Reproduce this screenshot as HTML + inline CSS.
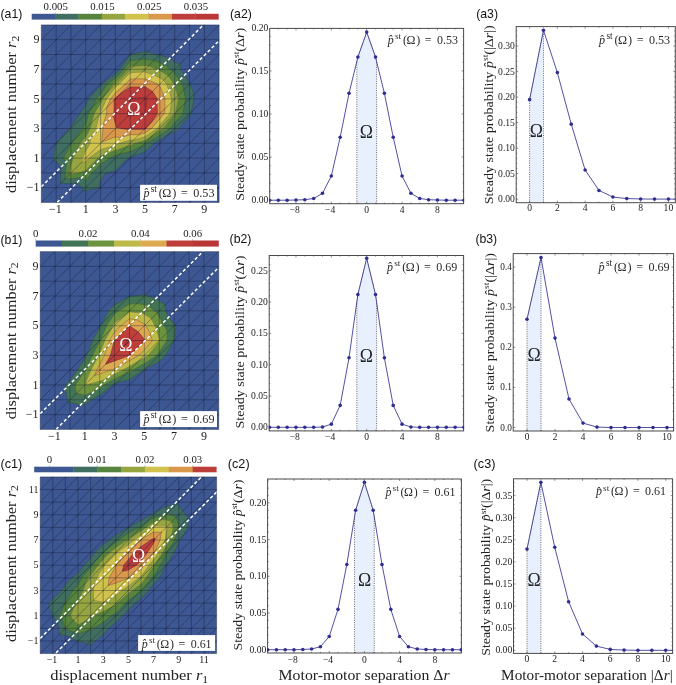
<!DOCTYPE html>
<html><head><meta charset="utf-8"><title>Steady state probability</title>
<style>html,body{margin:0;padding:0;background:#fff}svg{display:block}</style></head>
<body>
<svg width="676" height="685" viewBox="0 0 676 685">
<rect width="676" height="685" fill="#fff"/>
<g shape-rendering="geometricPrecision">
<rect x="41.3" y="24.9" width="177.84" height="177.6" fill="#3d5793"/>
<path d="M85.76 190.63L98.72 187.7L100.58 180.83L105.47 172.9L115.4 170.83L127.7 158.1L130.22 157.48L131.38 156.95L145.04 151.79L154.42 143.3L159.86 139.98L170.06 133.12L174.68 132.12L178.31 128.5L189.5 115.74L191.54 113.7L191.54 111.66L194.03 98.9L194.03 94.38L189.97 84.1L189.97 83.63L189.5 83.63L184.4 74.4L180.29 69.3L180.29 63.7L174.68 62.62L170.44 58.74L159.86 55.14L159.4 54.96L155.91 54.5L147.82 51.72L145.04 51.72L130.56 54.16L130.22 54.16L129.88 54.5L129.88 54.84L119.66 69.3L115.4 73.62L101.63 84.1L100.58 85.67L88.55 98.9L85.76 105.07L79.88 113.7L70.94 127.02L69.77 128.5L56.12 143.3L56.12 143.3L56.12 143.3L53.14 158.1L53.14 161.08L56.12 161.08L61.47 167.56L60.64 172.9L60.64 183.18L70.94 183.59L75.89 182.76L82.5 187.7L82.83 190.63ZM65.17 178.66L65.17 172.9L66.82 162.22L63.42 158.1L70.94 144.34L71.46 143.3L73.81 140.43L82.65 128.5L85.76 123.63L88.51 113.7L92.69 106.78L96.25 98.9L100.58 94.14L107.31 84.1L115.4 77.95L123.92 69.3L130.22 60.39L139.97 59.56L145.04 59.27L153.92 60.43L159.86 62.82L164.7 64.46L169.98 69.3L172.88 71.1L174.68 73.77L179.29 79.49L181.84 84.1L183.74 89.85L185.51 98.9L184.5 103.89L183.08 113.7L174.68 122.87L170.02 128.5L159.86 135.34L146.82 143.3L145.04 144.91L142.45 145.88L130.22 151.53L119.29 154.22L115.4 155.5L109.45 158.1L100.58 164.52L92.23 172.9L85.76 180.25L81.55 177.1L70.94 178.89Z" fill="#406e61" stroke="#406e61" stroke-width="0.5" fill-rule="evenodd"/>
<path d="M70.94 178.89L81.55 177.1L85.76 180.25L92.23 172.9L100.58 164.52L109.45 158.1L115.4 155.5L119.29 154.22L130.22 151.53L142.45 145.88L145.04 144.91L146.82 143.3L159.86 135.34L170.02 128.5L174.68 122.87L183.08 113.7L184.5 103.89L185.51 98.9L183.74 89.85L181.84 84.1L179.29 79.49L174.68 73.77L172.88 71.1L169.98 69.3L164.7 64.46L159.86 62.82L153.92 60.43L145.04 59.27L139.97 59.56L130.22 60.39L123.92 69.3L115.4 77.95L107.31 84.1L100.58 94.14L96.25 98.9L92.69 106.78L88.51 113.7L85.76 123.63L82.65 128.5L73.81 140.43L71.46 143.3L70.94 144.34L63.42 158.1L66.82 162.22L65.17 172.9L65.17 178.66ZM69.69 174.14L69.69 172.9L70.94 164.82L73.1 158.1L74.99 154.06L80.34 143.3L85.76 136.7L90.11 128.5L91.6 122.67L94.09 113.7L100.58 102.94L102.39 98.9L108.12 91.37L113 84.1L115.4 82.27L128.18 69.3L130.22 66.42L133.37 66.15L145.04 65.46L148.44 65.91L156.88 69.3L159.07 70.09L159.86 70.46L168.29 75.68L173.94 84.1L174.18 84.6L174.68 86.4L177.78 95.81L178.38 98.9L175.57 112.81L175.44 113.7L174.68 114.53L163.13 128.5L159.86 130.7L154.19 134.16L145.04 140.41L135.16 143.3L130.22 145.58L127.19 146.33L115.4 150.22L103.08 155.6L100.58 156.3L98.13 158.1L85.76 170.53L78.61 172.9L70.94 174.19Z" fill="#56843e" stroke="#56843e" stroke-width="0.5" fill-rule="evenodd"/>
<path d="M70.94 174.19L78.61 172.9L85.76 170.53L98.13 158.1L100.58 156.3L103.08 155.6L115.4 150.22L127.19 146.33L130.22 145.58L135.16 143.3L145.04 140.41L154.19 134.16L159.86 130.7L163.13 128.5L174.68 114.53L175.44 113.7L175.57 112.81L178.38 98.9L177.78 95.81L174.68 86.4L174.18 84.6L173.94 84.1L168.29 75.68L159.86 70.46L159.07 70.09L156.88 69.3L148.44 65.91L145.04 65.46L133.37 66.15L130.22 66.42L128.18 69.3L115.4 82.27L113 84.1L108.12 91.37L102.39 98.9L100.58 102.94L94.09 113.7L91.6 122.67L90.11 128.5L85.76 136.7L80.34 143.3L74.99 154.06L73.1 158.1L70.94 164.82L69.69 172.9L69.69 174.14ZM80.98 162.87L82.51 158.1L85.76 151.15L90.17 143.3L90.53 138.54L95.86 128.5L99.31 114.97L99.66 113.7L100.58 112.18L106.51 98.9L115.4 87.23L119.06 84.1L130.22 72.68L142.4 71.93L145.04 71.94L153.97 75.18L159.86 77.89L163.7 80.27L166.27 84.1L168.99 89.78L171.5 98.9L171.55 102.03L169.72 113.7L159.86 125.14L156.96 128.5L145.04 136.64L133.51 140.01L130.22 139.99L120.35 143.3L115.4 144.93L112.49 146.21L100.58 149.53L88.93 158.1L85.76 161.29Z" fill="#96a540" stroke="#96a540" stroke-width="0.5" fill-rule="evenodd"/>
<path d="M85.76 161.29L88.93 158.1L100.58 149.53L112.49 146.21L115.4 144.93L120.35 143.3L130.22 139.99L133.51 140.01L145.04 136.64L156.96 128.5L159.86 125.14L169.72 113.7L171.55 102.03L171.5 98.9L168.99 89.78L166.27 84.1L163.7 80.27L159.86 77.89L153.97 75.18L145.04 71.94L142.4 71.93L130.22 72.68L119.06 84.1L115.4 87.23L106.51 98.9L100.58 112.18L99.66 113.7L99.31 114.97L95.86 128.5L90.53 138.54L90.17 143.3L85.76 151.15L82.51 158.1L80.98 162.87ZM101.79 142.09L103.04 128.5L102.51 126.58L106.67 113.7L106.8 107.49L110.64 98.9L115.4 92.65L125.4 84.1L130.22 79.17L135.48 78.85L145.04 78.89L148.87 80.28L157.2 84.1L158.81 85.14L159.86 86.73L163.81 94.96L164.89 98.9L165.02 108.55L164.21 113.7L159.86 118.75L151.44 128.5L145.04 132.87L138.85 134.68L130.22 134.63L120.98 137.72L115.4 136.88Z" fill="#d0c24d" stroke="#d0c24d" stroke-width="0.5" fill-rule="evenodd"/>
<path d="M115.4 136.88L120.98 137.72L130.22 134.63L138.85 134.68L145.04 132.87L151.44 128.5L159.86 118.75L164.21 113.7L165.02 108.55L164.89 98.9L163.81 94.96L159.86 86.73L158.81 85.14L157.2 84.1L148.87 80.28L145.04 78.89L135.48 78.85L130.22 79.17L125.4 84.1L115.4 92.65L110.64 98.9L106.8 107.49L106.67 113.7L102.51 126.58L103.04 128.5L101.79 142.09ZM129.07 129.65L121.47 128.5L116.55 127.36L115.4 123.59L113.26 115.84L113.95 113.7L114.25 100.05L114.76 98.9L115.4 98.06L121.21 93.1L130.22 86.92L142.13 87L145.04 86.72L152.44 91.51L157.32 98.9L157.04 101.72L157.33 113.7L151.45 122.1L145.93 128.5L145.04 129.1L144.18 129.36L130.22 129.26Z" fill="#d9984c" stroke="#d9984c" stroke-width="0.5" fill-rule="evenodd"/>
<path d="M130.22 129.26L144.18 129.36L145.04 129.1L145.93 128.5L151.45 122.1L157.33 113.7L157.04 101.72L157.32 98.9L152.44 91.51L145.04 86.72L142.13 87L130.22 86.92L121.21 93.1L115.4 98.06L114.76 98.9L114.25 100.05L113.95 113.7L113.26 115.84L115.4 123.59L116.55 127.36L121.47 128.5L129.07 129.65ZM128.13 115.78L127.5 113.7L129.86 99.26L129.88 98.9L130.22 98.67L130.45 98.67L145.04 97.22L146.06 97.88L146.73 98.9L145.28 113.47L145.28 113.7L145.04 114.04L144.7 114.04L130.22 116.27Z" fill="#bc3d3a" stroke="#bc3d3a" stroke-width="0.5" fill-rule="evenodd"/>
<path d="M130.22 116.27L144.7 114.04L145.04 114.04L145.28 113.7L145.28 113.47L146.73 98.9L146.06 97.88L145.04 97.22L130.45 98.67L130.22 98.67L129.88 98.9L129.86 99.26L127.5 113.7L128.13 115.78Z" fill="#b93737" stroke="#b93737" stroke-width="0.5" fill-rule="evenodd"/>
<path d="M41.3 24.9V202.5M41.3 202.5H219.14M56.12 24.9V202.5M41.3 187.7H219.14M70.94 24.9V202.5M41.3 172.9H219.14M85.76 24.9V202.5M41.3 158.1H219.14M100.58 24.9V202.5M41.3 143.3H219.14M115.4 24.9V202.5M41.3 128.5H219.14M130.22 24.9V202.5M41.3 113.7H219.14M145.04 24.9V202.5M41.3 98.9H219.14M159.86 24.9V202.5M41.3 84.1H219.14M174.68 24.9V202.5M41.3 69.3H219.14M189.5 24.9V202.5M41.3 54.5H219.14M204.32 24.9V202.5M41.3 39.7H219.14M219.14 24.9V202.5M41.3 24.9H219.14M204.32 202.5L219.14 187.7M189.5 202.5L219.14 172.9M174.68 202.5L219.14 158.1M159.86 202.5L219.14 143.3M145.04 202.5L219.14 128.5M130.22 202.5L219.14 113.7M115.4 202.5L219.14 98.9M100.58 202.5L219.14 84.1M85.76 202.5L219.14 69.3M70.94 202.5L219.14 54.5M56.12 202.5L219.14 39.7M41.3 202.5L219.14 24.9M41.3 187.7L204.32 24.9M41.3 172.9L189.5 24.9M41.3 158.1L174.68 24.9M41.3 143.3L159.86 24.9M41.3 128.5L145.04 24.9M41.3 113.7L130.22 24.9M41.3 98.9L115.4 24.9M41.3 84.1L100.58 24.9M41.3 69.3L85.76 24.9M41.3 54.5L70.94 24.9M41.3 39.7L56.12 24.9" fill="none" stroke="#10162a" stroke-opacity="0.6" stroke-width="0.6"/>
<path d="M85.76 190.63L98.72 187.7L100.58 180.83L105.47 172.9L115.4 170.83L127.7 158.1L130.22 157.48L131.38 156.95L145.04 151.79L154.42 143.3L159.86 139.98L170.06 133.12L174.68 132.12L178.31 128.5L189.5 115.74L191.54 113.7L191.54 111.66L194.03 98.9L194.03 94.38L189.97 84.1L189.97 83.63L189.5 83.63L184.4 74.4L180.29 69.3L180.29 63.7L174.68 62.62L170.44 58.74L159.86 55.14L159.4 54.96L155.91 54.5L147.82 51.72L145.04 51.72L130.56 54.16L130.22 54.16L129.88 54.5L129.88 54.84L119.66 69.3L115.4 73.62L101.63 84.1L100.58 85.67L88.55 98.9L85.76 105.07L79.88 113.7L70.94 127.02L69.77 128.5L56.12 143.3L56.12 143.3L56.12 143.3L53.14 158.1L53.14 161.08L56.12 161.08L61.47 167.56L60.64 172.9L60.64 183.18L70.94 183.59L75.89 182.76L82.5 187.7L82.83 190.63ZM70.94 178.89L81.55 177.1L85.76 180.25L92.23 172.9L100.58 164.52L109.45 158.1L115.4 155.5L119.29 154.22L130.22 151.53L142.45 145.88L145.04 144.91L146.82 143.3L159.86 135.34L170.02 128.5L174.68 122.87L183.08 113.7L184.5 103.89L185.51 98.9L183.74 89.85L181.84 84.1L179.29 79.49L174.68 73.77L172.88 71.1L169.98 69.3L164.7 64.46L159.86 62.82L153.92 60.43L145.04 59.27L139.97 59.56L130.22 60.39L123.92 69.3L115.4 77.95L107.31 84.1L100.58 94.14L96.25 98.9L92.69 106.78L88.51 113.7L85.76 123.63L82.65 128.5L73.81 140.43L71.46 143.3L70.94 144.34L63.42 158.1L66.82 162.22L65.17 172.9L65.17 178.66ZM70.94 174.19L78.61 172.9L85.76 170.53L98.13 158.1L100.58 156.3L103.08 155.6L115.4 150.22L127.19 146.33L130.22 145.58L135.16 143.3L145.04 140.41L154.19 134.16L159.86 130.7L163.13 128.5L174.68 114.53L175.44 113.7L175.57 112.81L178.38 98.9L177.78 95.81L174.68 86.4L174.18 84.6L173.94 84.1L168.29 75.68L159.86 70.46L159.07 70.09L156.88 69.3L148.44 65.91L145.04 65.46L133.37 66.15L130.22 66.42L128.18 69.3L115.4 82.27L113 84.1L108.12 91.37L102.39 98.9L100.58 102.94L94.09 113.7L91.6 122.67L90.11 128.5L85.76 136.7L80.34 143.3L74.99 154.06L73.1 158.1L70.94 164.82L69.69 172.9L69.69 174.14ZM85.76 161.29L88.93 158.1L100.58 149.53L112.49 146.21L115.4 144.93L120.35 143.3L130.22 139.99L133.51 140.01L145.04 136.64L156.96 128.5L159.86 125.14L169.72 113.7L171.55 102.03L171.5 98.9L168.99 89.78L166.27 84.1L163.7 80.27L159.86 77.89L153.97 75.18L145.04 71.94L142.4 71.93L130.22 72.68L119.06 84.1L115.4 87.23L106.51 98.9L100.58 112.18L99.66 113.7L99.31 114.97L95.86 128.5L90.53 138.54L90.17 143.3L85.76 151.15L82.51 158.1L80.98 162.87ZM115.4 136.88L120.98 137.72L130.22 134.63L138.85 134.68L145.04 132.87L151.44 128.5L159.86 118.75L164.21 113.7L165.02 108.55L164.89 98.9L163.81 94.96L159.86 86.73L158.81 85.14L157.2 84.1L148.87 80.28L145.04 78.89L135.48 78.85L130.22 79.17L125.4 84.1L115.4 92.65L110.64 98.9L106.8 107.49L106.67 113.7L102.51 126.58L103.04 128.5L101.79 142.09ZM130.22 129.26L144.18 129.36L145.04 129.1L145.93 128.5L151.45 122.1L157.33 113.7L157.04 101.72L157.32 98.9L152.44 91.51L145.04 86.72L142.13 87L130.22 86.92L121.21 93.1L115.4 98.06L114.76 98.9L114.25 100.05L113.95 113.7L113.26 115.84L115.4 123.59L116.55 127.36L121.47 128.5L129.07 129.65ZM130.22 116.27L144.7 114.04L145.04 114.04L145.28 113.7L145.28 113.47L146.73 98.9L146.06 97.88L145.04 97.22L130.45 98.67L130.22 98.67L129.88 98.9L129.86 99.26L127.5 113.7L128.13 115.78Z" fill="none" stroke="#1a1a1a" stroke-opacity="0.45" stroke-width="0.45"/>
<clipPath id="cpa1"><rect x="41.3" y="24.9" width="177.84" height="177.6"/></clipPath>
<g clip-path="url(#cpa1)" stroke="#fff" stroke-width="1.5" stroke-dasharray="3.3 2.3" fill="none">
<path d="M41.3 186.81L219.14 9.21"/>
<path d="M41.3 218.19L219.14 40.59"/>
</g>
</g>
<text x="55.32" y="213.2" font-family='"Liberation Serif", "DejaVu Serif", serif' font-size="12" fill="#222" text-anchor="middle" >−1</text>
<text x="39.6" y="191.3" font-family='"Liberation Serif", "DejaVu Serif", serif' font-size="12" fill="#222" text-anchor="end" >−1</text>
<text x="85.76" y="213.2" font-family='"Liberation Serif", "DejaVu Serif", serif' font-size="12" fill="#222" text-anchor="middle" >1</text>
<text x="39.6" y="161.7" font-family='"Liberation Serif", "DejaVu Serif", serif' font-size="12" fill="#222" text-anchor="end" >1</text>
<text x="115.4" y="213.2" font-family='"Liberation Serif", "DejaVu Serif", serif' font-size="12" fill="#222" text-anchor="middle" >3</text>
<text x="39.6" y="132.1" font-family='"Liberation Serif", "DejaVu Serif", serif' font-size="12" fill="#222" text-anchor="end" >3</text>
<text x="145.04" y="213.2" font-family='"Liberation Serif", "DejaVu Serif", serif' font-size="12" fill="#222" text-anchor="middle" >5</text>
<text x="39.6" y="102.5" font-family='"Liberation Serif", "DejaVu Serif", serif' font-size="12" fill="#222" text-anchor="end" >5</text>
<text x="174.68" y="213.2" font-family='"Liberation Serif", "DejaVu Serif", serif' font-size="12" fill="#222" text-anchor="middle" >7</text>
<text x="39.6" y="72.9" font-family='"Liberation Serif", "DejaVu Serif", serif' font-size="12" fill="#222" text-anchor="end" >7</text>
<text x="204.32" y="213.2" font-family='"Liberation Serif", "DejaVu Serif", serif' font-size="12" fill="#222" text-anchor="middle" >9</text>
<text x="39.6" y="43.3" font-family='"Liberation Serif", "DejaVu Serif", serif' font-size="12" fill="#222" text-anchor="end" >9</text>
<rect x="31.7" y="13.8" width="23.68" height="5.8" fill="#3d5793"/>
<rect x="55.08" y="13.8" width="23.68" height="5.8" fill="#406e61"/>
<rect x="78.45" y="13.8" width="23.68" height="5.8" fill="#56843e"/>
<rect x="101.83" y="13.8" width="23.68" height="5.8" fill="#96a540"/>
<rect x="125.2" y="13.8" width="23.67" height="5.8" fill="#d0c24d"/>
<rect x="148.57" y="13.8" width="23.68" height="5.8" fill="#d9984c"/>
<rect x="171.95" y="13.8" width="23.68" height="5.8" fill="#bc3d3a"/>
<rect x="195.32" y="13.8" width="23.38" height="5.8" fill="#b93737"/>
<path d="M55.08 12.5V13.8" stroke="#666" stroke-width="0.5"/>
<text x="55.68" y="10.2" font-family='"Liberation Serif", "DejaVu Serif", serif' font-size="10.8" fill="#222" text-anchor="middle" >0.005</text>
<path d="M101.83 12.5V13.8" stroke="#666" stroke-width="0.5"/>
<text x="102.42" y="10.2" font-family='"Liberation Serif", "DejaVu Serif", serif' font-size="10.8" fill="#222" text-anchor="middle" >0.015</text>
<path d="M148.57 12.5V13.8" stroke="#666" stroke-width="0.5"/>
<text x="149.17" y="10.2" font-family='"Liberation Serif", "DejaVu Serif", serif' font-size="10.8" fill="#222" text-anchor="middle" >0.025</text>
<path d="M195.32 12.5V13.8" stroke="#666" stroke-width="0.5"/>
<text x="195.92" y="10.2" font-family='"Liberation Serif", "DejaVu Serif", serif' font-size="10.8" fill="#222" text-anchor="middle" >0.035</text>
<text x="133.9" y="115.1" font-family='"Liberation Serif", "DejaVu Serif", serif' font-size="17.8" fill="#fff" text-anchor="middle" >Ω</text>
<rect x="140.1" y="184.8" width="76.9" height="16" fill="#fff"/>
<text y="196.9" font-family='"Liberation Serif", "DejaVu Serif", serif' font-size="12.17" fill="#2a2a2a"><tspan x="143.4" font-style="italic">p̂</tspan><tspan x="150.71" dy="-4.77" font-size="9.33">st</tspan><tspan x="158.82" dy="4.77">(</tspan><tspan x="162.37">Ω</tspan><tspan x="172.21">)</tspan><tspan x="180.93">=</tspan><tspan x="193.21">0.53</tspan></text>
<text transform="translate(16.2 114.4) rotate(-90)" font-family='"Liberation Serif", "DejaVu Serif", serif' font-size="15.6" fill="#222" text-anchor="middle"  textLength="157.4" lengthAdjust="spacingAndGlyphs">displacement number <tspan font-style="italic">r</tspan><tspan font-size="11" dy="2.6">2</tspan></text>
<text x="0.5" y="18.4" font-family='"Liberation Sans", "DejaVu Sans", sans-serif' font-size="13.4" fill="#111" text-anchor="start"  textLength="21.8" lengthAdjust="spacingAndGlyphs">(a1)</text>
<g shape-rendering="geometricPrecision">
<rect x="40.2" y="251.6" width="178.56" height="177.84" fill="#3d5793"/>
<path d="M69.96 402.24L79.77 404.85L84.84 404.85L91.31 399.8L99.72 395.16L112.31 384.98L114.6 383.69L117.19 382.4L129.48 379.68L143.24 370.16L144.36 369.56L146.24 368.28L159.24 361.5L165.42 355.34L174.12 340.52L175.35 325.7L175.35 324.48L174.12 324.39L168.37 316.61L165.48 310.88L165.22 304.92L159.24 301.34L156.5 298.79L147.33 296.06L145.62 294.81L144.36 294.8L134.64 296.06L129.48 296.44L128.48 297.06L114.6 304.88L108.58 310.88L102.03 323.4L100.49 325.7L99.72 327.48L92.61 340.52L87.89 352.3L86.31 355.34L84.84 358.3L77.39 370.16L69.96 380.34L65.49 384.98L65.49 389.44L67.51 399.8L67.51 402.24ZM76.5 393.29L75.28 384.98L84.84 370.91L85.15 370.16L85.51 369.49L92.52 355.34L99.72 341.53L100.13 340.52L100.64 339.6L106.67 325.7L114.6 313.84L118.65 310.88L129.48 304.22L136.71 303.68L144.36 304.72L149.12 306.14L154.23 310.88L157.29 312.82L159.24 316.89L162.2 322.75L164.38 325.7L167.32 332.47L166.97 340.52L159.24 352.21L156.73 355.34L144.36 363.7L132.39 370.16L129.48 372.18L126.88 372.75L114.6 378.88L103.77 384.98L99.72 388.25L92.35 392.32L84.84 395.05Z" fill="#427455" stroke="#427455" stroke-width="0.5" fill-rule="evenodd"/>
<path d="M84.84 395.05L92.35 392.32L99.72 388.25L103.77 384.98L114.6 378.88L126.88 372.75L129.48 372.18L132.39 370.16L144.36 363.7L156.73 355.34L159.24 352.21L166.97 340.52L167.32 332.47L164.38 325.7L162.2 322.75L159.24 316.89L157.29 312.82L154.23 310.88L149.12 306.14L144.36 304.72L136.71 303.68L129.48 304.22L118.65 310.88L114.6 313.84L106.67 325.7L100.64 339.6L100.13 340.52L99.72 341.53L92.52 355.34L85.51 369.49L85.15 370.16L84.84 370.91L75.28 384.98L76.5 393.29ZM84.64 385.18L84.61 384.98L84.84 384.64L90.9 370.16L97.77 357.28L98.73 355.34L99.72 353.45L104.89 340.52L111.5 328.78L112.84 325.7L114.6 323.07L124.51 315.83L129.48 311.87L142.11 313.12L144.36 314.31L151.36 318.73L154.68 325.7L156.25 328.67L159.24 338.51L159.85 339.91L159.82 340.52L159.24 341.4L148.07 355.34L144.36 357.84L138.87 360.81L129.48 366.22L122.42 370.16L114.6 374.06L105.58 379.15L99.72 381.19L85.51 384.98L84.84 385.22Z" fill="#6c933e" stroke="#6c933e" stroke-width="0.5" fill-rule="evenodd"/>
<path d="M84.84 385.22L85.51 384.98L99.72 381.19L105.58 379.15L114.6 374.06L122.42 370.16L129.48 366.22L138.87 360.81L144.36 357.84L148.07 355.34L159.24 341.4L159.82 340.52L159.85 339.91L159.24 338.51L156.25 328.67L154.68 325.7L151.36 318.73L144.36 314.31L142.11 313.12L129.48 311.87L124.51 315.83L114.6 323.07L112.84 325.7L111.5 328.78L104.89 340.52L99.72 353.45L98.73 355.34L97.77 357.28L90.9 370.16L84.84 384.64L84.61 384.98L84.64 385.18ZM94.46 375.4L96.65 370.16L99.72 364.41L104.63 355.34L106.38 348.71L109.65 340.52L114.6 331.74L120.82 325.7L129.48 318.8L135.78 319.42L144.36 323.98L145.42 324.65L145.92 325.7L150.51 334.39L152.37 340.52L144.36 350.18L139.01 355.34L129.48 360.83L116.93 367.84L114.6 368.68L110.71 370.16L99.72 374Z" fill="#beba48" stroke="#beba48" stroke-width="0.5" fill-rule="evenodd"/>
<path d="M99.72 374L110.71 370.16L114.6 368.68L116.93 367.84L129.48 360.83L139.01 355.34L144.36 350.18L152.37 340.52L150.51 334.39L145.92 325.7L145.42 324.65L144.36 323.98L135.78 319.42L129.48 318.8L120.82 325.7L114.6 331.74L109.65 340.52L106.38 348.71L104.63 355.34L99.72 364.41L96.65 370.16L94.46 375.4ZM105.62 364.28L110.46 355.34L114.29 340.83L114.41 340.52L114.6 340.19L128.03 327.14L129.48 325.75L138.19 331.84L144.36 339.35L144.77 340.12L144.89 340.52L144.36 341.16L129.66 355.34L129.48 355.44L129.24 355.57L114.6 360.88Z" fill="#ddaa50" stroke="#ddaa50" stroke-width="0.5" fill-rule="evenodd"/>
<path d="M114.6 360.88L129.24 355.57L129.48 355.44L129.66 355.34L144.36 341.16L144.89 340.52L144.77 340.12L144.36 339.35L138.19 331.84L129.48 325.75L128.03 327.14L114.6 340.19L114.41 340.52L114.29 340.83L110.46 355.34L105.62 364.28ZM124.19 345.79L127.35 340.52L129.48 338.48L130.68 339.32L131.67 340.52L129.48 342.6Z" fill="#be3e3a" stroke="#be3e3a" stroke-width="0.5" fill-rule="evenodd"/>
<path d="M129.48 342.6L131.67 340.52L130.68 339.32L129.48 338.48L127.35 340.52L124.19 345.79Z" fill="#b93737" stroke="#b93737" stroke-width="0.5" fill-rule="evenodd"/>
<path d="M40.2 251.6V429.44M40.2 429.44H218.76M55.08 251.6V429.44M40.2 414.62H218.76M69.96 251.6V429.44M40.2 399.8H218.76M84.84 251.6V429.44M40.2 384.98H218.76M99.72 251.6V429.44M40.2 370.16H218.76M114.6 251.6V429.44M40.2 355.34H218.76M129.48 251.6V429.44M40.2 340.52H218.76M144.36 251.6V429.44M40.2 325.7H218.76M159.24 251.6V429.44M40.2 310.88H218.76M174.12 251.6V429.44M40.2 296.06H218.76M189 251.6V429.44M40.2 281.24H218.76M203.88 251.6V429.44M40.2 266.42H218.76M218.76 251.6V429.44M40.2 251.6H218.76M203.88 429.44L218.76 414.62M189 429.44L218.76 399.8M174.12 429.44L218.76 384.98M159.24 429.44L218.76 370.16M144.36 429.44L218.76 355.34M129.48 429.44L218.76 340.52M114.6 429.44L218.76 325.7M99.72 429.44L218.76 310.88M84.84 429.44L218.76 296.06M69.96 429.44L218.76 281.24M55.08 429.44L218.76 266.42M40.2 429.44L218.76 251.6M40.2 414.62L203.88 251.6M40.2 399.8L189 251.6M40.2 384.98L174.12 251.6M40.2 370.16L159.24 251.6M40.2 355.34L144.36 251.6M40.2 340.52L129.48 251.6M40.2 325.7L114.6 251.6M40.2 310.88L99.72 251.6M40.2 296.06L84.84 251.6M40.2 281.24L69.96 251.6M40.2 266.42L55.08 251.6" fill="none" stroke="#10162a" stroke-opacity="0.6" stroke-width="0.6"/>
<path d="M69.96 402.24L79.77 404.85L84.84 404.85L91.31 399.8L99.72 395.16L112.31 384.98L114.6 383.69L117.19 382.4L129.48 379.68L143.24 370.16L144.36 369.56L146.24 368.28L159.24 361.5L165.42 355.34L174.12 340.52L175.35 325.7L175.35 324.48L174.12 324.39L168.37 316.61L165.48 310.88L165.22 304.92L159.24 301.34L156.5 298.79L147.33 296.06L145.62 294.81L144.36 294.8L134.64 296.06L129.48 296.44L128.48 297.06L114.6 304.88L108.58 310.88L102.03 323.4L100.49 325.7L99.72 327.48L92.61 340.52L87.89 352.3L86.31 355.34L84.84 358.3L77.39 370.16L69.96 380.34L65.49 384.98L65.49 389.44L67.51 399.8L67.51 402.24ZM84.84 395.05L92.35 392.32L99.72 388.25L103.77 384.98L114.6 378.88L126.88 372.75L129.48 372.18L132.39 370.16L144.36 363.7L156.73 355.34L159.24 352.21L166.97 340.52L167.32 332.47L164.38 325.7L162.2 322.75L159.24 316.89L157.29 312.82L154.23 310.88L149.12 306.14L144.36 304.72L136.71 303.68L129.48 304.22L118.65 310.88L114.6 313.84L106.67 325.7L100.64 339.6L100.13 340.52L99.72 341.53L92.52 355.34L85.51 369.49L85.15 370.16L84.84 370.91L75.28 384.98L76.5 393.29ZM84.84 385.22L85.51 384.98L99.72 381.19L105.58 379.15L114.6 374.06L122.42 370.16L129.48 366.22L138.87 360.81L144.36 357.84L148.07 355.34L159.24 341.4L159.82 340.52L159.85 339.91L159.24 338.51L156.25 328.67L154.68 325.7L151.36 318.73L144.36 314.31L142.11 313.12L129.48 311.87L124.51 315.83L114.6 323.07L112.84 325.7L111.5 328.78L104.89 340.52L99.72 353.45L98.73 355.34L97.77 357.28L90.9 370.16L84.84 384.64L84.61 384.98L84.64 385.18ZM99.72 374L110.71 370.16L114.6 368.68L116.93 367.84L129.48 360.83L139.01 355.34L144.36 350.18L152.37 340.52L150.51 334.39L145.92 325.7L145.42 324.65L144.36 323.98L135.78 319.42L129.48 318.8L120.82 325.7L114.6 331.74L109.65 340.52L106.38 348.71L104.63 355.34L99.72 364.41L96.65 370.16L94.46 375.4ZM114.6 360.88L129.24 355.57L129.48 355.44L129.66 355.34L144.36 341.16L144.89 340.52L144.77 340.12L144.36 339.35L138.19 331.84L129.48 325.75L128.03 327.14L114.6 340.19L114.41 340.52L114.29 340.83L110.46 355.34L105.62 364.28ZM129.48 342.6L131.67 340.52L130.68 339.32L129.48 338.48L127.35 340.52L124.19 345.79Z" fill="none" stroke="#1a1a1a" stroke-opacity="0.45" stroke-width="0.45"/>
<clipPath id="cpb1"><rect x="40.2" y="251.6" width="178.56" height="177.84"/></clipPath>
<g clip-path="url(#cpb1)" stroke="#fff" stroke-width="1.5" stroke-dasharray="3.3 2.3" fill="none">
<path d="M40.2 413.73L218.76 235.89"/>
<path d="M40.2 445.15L218.76 267.31"/>
</g>
</g>
<text x="54.28" y="440.14" font-family='"Liberation Serif", "DejaVu Serif", serif' font-size="12" fill="#222" text-anchor="middle" >−1</text>
<text x="38.5" y="418.22" font-family='"Liberation Serif", "DejaVu Serif", serif' font-size="12" fill="#222" text-anchor="end" >−1</text>
<text x="84.84" y="440.14" font-family='"Liberation Serif", "DejaVu Serif", serif' font-size="12" fill="#222" text-anchor="middle" >1</text>
<text x="38.5" y="388.58" font-family='"Liberation Serif", "DejaVu Serif", serif' font-size="12" fill="#222" text-anchor="end" >1</text>
<text x="114.6" y="440.14" font-family='"Liberation Serif", "DejaVu Serif", serif' font-size="12" fill="#222" text-anchor="middle" >3</text>
<text x="38.5" y="358.94" font-family='"Liberation Serif", "DejaVu Serif", serif' font-size="12" fill="#222" text-anchor="end" >3</text>
<text x="144.36" y="440.14" font-family='"Liberation Serif", "DejaVu Serif", serif' font-size="12" fill="#222" text-anchor="middle" >5</text>
<text x="38.5" y="329.3" font-family='"Liberation Serif", "DejaVu Serif", serif' font-size="12" fill="#222" text-anchor="end" >5</text>
<text x="174.12" y="440.14" font-family='"Liberation Serif", "DejaVu Serif", serif' font-size="12" fill="#222" text-anchor="middle" >7</text>
<text x="38.5" y="299.66" font-family='"Liberation Serif", "DejaVu Serif", serif' font-size="12" fill="#222" text-anchor="end" >7</text>
<text x="203.88" y="440.14" font-family='"Liberation Serif", "DejaVu Serif", serif' font-size="12" fill="#222" text-anchor="middle" >9</text>
<text x="38.5" y="270.02" font-family='"Liberation Serif", "DejaVu Serif", serif' font-size="12" fill="#222" text-anchor="end" >9</text>
<rect x="35.7" y="240.5" width="26.46" height="6.1" fill="#3d5793"/>
<rect x="61.86" y="240.5" width="26.46" height="6.1" fill="#427455"/>
<rect x="88.01" y="240.5" width="26.46" height="6.1" fill="#6c933e"/>
<rect x="114.17" y="240.5" width="26.46" height="6.1" fill="#beba48"/>
<rect x="140.33" y="240.5" width="26.46" height="6.1" fill="#ddaa50"/>
<rect x="166.49" y="240.5" width="26.46" height="6.1" fill="#be3e3a"/>
<rect x="192.64" y="240.5" width="26.16" height="6.1" fill="#b93737"/>
<path d="M35.7 239.2V240.5" stroke="#666" stroke-width="0.5"/>
<text x="35.7" y="236.9" font-family='"Liberation Serif", "DejaVu Serif", serif' font-size="10.8" fill="#222" text-anchor="middle" >0</text>
<path d="M88.01 239.2V240.5" stroke="#666" stroke-width="0.5"/>
<text x="88.01" y="236.9" font-family='"Liberation Serif", "DejaVu Serif", serif' font-size="10.8" fill="#222" text-anchor="middle" >0.02</text>
<path d="M140.33 239.2V240.5" stroke="#666" stroke-width="0.5"/>
<text x="140.33" y="236.9" font-family='"Liberation Serif", "DejaVu Serif", serif' font-size="10.8" fill="#222" text-anchor="middle" >0.04</text>
<path d="M192.64 239.2V240.5" stroke="#666" stroke-width="0.5"/>
<text x="192.64" y="236.9" font-family='"Liberation Serif", "DejaVu Serif", serif' font-size="10.8" fill="#222" text-anchor="middle" >0.06</text>
<text x="125.9" y="351" font-family='"Liberation Serif", "DejaVu Serif", serif' font-size="17.8" fill="#fff" text-anchor="middle" >Ω</text>
<rect x="140.1" y="411.1" width="76.9" height="16" fill="#fff"/>
<text y="422.9" font-family='"Liberation Serif", "DejaVu Serif", serif' font-size="12.17" fill="#2a2a2a"><tspan x="143.4" font-style="italic">p̂</tspan><tspan x="150.71" dy="-4.77" font-size="9.33">st</tspan><tspan x="158.82" dy="4.77">(</tspan><tspan x="162.37">Ω</tspan><tspan x="172.21">)</tspan><tspan x="180.93">=</tspan><tspan x="193.21">0.69</tspan></text>
<text transform="translate(15.6 340.8) rotate(-90)" font-family='"Liberation Serif", "DejaVu Serif", serif' font-size="15.6" fill="#222" text-anchor="middle"  textLength="156.8" lengthAdjust="spacingAndGlyphs">displacement number <tspan font-style="italic">r</tspan><tspan font-size="11" dy="2.6">2</tspan></text>
<text x="0.5" y="243.9" font-family='"Liberation Sans", "DejaVu Sans", sans-serif' font-size="13.4" fill="#111" text-anchor="start"  textLength="21.8" lengthAdjust="spacingAndGlyphs">(b1)</text>
<g shape-rendering="geometricPrecision">
<rect x="40.2" y="476.9" width="176.4" height="176.68" fill="#3d5793"/>
<path d="M78 641.5L87.95 643.61L90.6 644.86L95.04 640.96L103.2 634.77L108.46 628.34L115.8 622.02L122.65 615.72L128.4 609.67L135.02 603.1L141 598.81L148.54 590.48L153.6 584.45L159.3 577.86L166.2 565.47L166.43 565.24L166.53 564.91L174.06 552.62L178.8 542.52L180.66 540L182.61 536.18L187.92 527.38L187.92 518.24L185.58 514.76L182.8 510.75L178.8 505.94L177.01 503.93L166.2 506.19L157.34 511.01L153.6 512.31L151.15 514.76L141 520.53L128.89 527.38L128.4 527.65L127.46 528.32L115.8 535.27L109.48 540L103.2 544.53L94.84 552.62L90.6 558.1L84.41 565.24L78 573.22L71.8 577.86L65.4 584.9L61.97 590.48L52.8 599.04L48.95 603.1L48.95 606.96L52.52 615.72L52.52 616L52.8 616L57.51 623.62L58.99 628.34L58.99 634.76L65.4 635.28L69.44 636.92L77.37 640.96L77.46 641.5ZM65.17 628.57L65.17 628.34L62.23 618.9L60.26 615.72L64.93 603.57L64.6 603.1L65.4 602.41L72.95 590.48L78 585.04L81.77 577.86L90.6 567.51L92.32 565.24L100.94 554.89L102.69 552.62L103.2 552.13L104.96 550.86L115.8 542.22L118.87 540L128.4 533.16L139.1 527.38L141 526.3L143.48 524.89L153.6 517.94L163.48 514.76L166.2 513.28L168.07 512.89L169.74 514.76L176.36 517.21L178.8 526.31L179.23 526.95L179.23 527.38L178.8 528.09L174.84 540L168.18 550.63L167.25 552.62L166.2 554.34L160.26 565.24L153.6 576.14L152.5 577.86L146.31 585.16L141.85 590.48L141 591.42L137.7 593.78L128.4 600.58L125.47 603.1L115.8 613.21L111.23 615.72L103.2 622.17L93.29 628.34L90.6 630.28L89.05 629.89L78 634.09L74.2 632.15L65.4 628.58Z" fill="#406e61" stroke="#406e61" stroke-width="0.5" fill-rule="evenodd"/>
<path d="M65.4 628.58L74.2 632.15L78 634.09L89.05 629.89L90.6 630.28L93.29 628.34L103.2 622.17L111.23 615.72L115.8 613.21L125.47 603.1L128.4 600.58L137.7 593.78L141 591.42L141.85 590.48L146.31 585.16L152.5 577.86L153.6 576.14L160.26 565.24L166.2 554.34L167.25 552.62L168.18 550.63L174.84 540L178.8 528.09L179.23 527.38L179.23 526.95L178.8 526.31L176.36 517.21L169.74 514.76L168.07 512.89L166.2 513.28L163.48 514.76L153.6 517.94L143.48 524.89L141 526.3L139.1 527.38L128.4 533.16L118.87 540L115.8 542.22L104.96 550.86L103.2 552.13L102.69 552.62L100.94 554.89L92.32 565.24L90.6 567.51L81.77 577.86L78 585.04L72.95 590.48L65.4 602.41L64.6 603.1L64.93 603.57L60.26 615.72L62.23 618.9L65.17 628.34L65.17 628.57ZM73.65 620.08L70.33 615.72L74.05 607.05L76.31 603.1L78 600.46L83.27 590.48L85.75 582.72L88.3 577.86L90.6 575.16L98.12 565.24L103.2 559.14L109.71 552.62L115.8 547.76L126.55 540L128.4 538.67L131.28 537.12L141 530.91L145.96 527.38L153.6 522.13L161.33 519.64L166.2 519.72L171.78 521.79L173.29 527.38L171.96 534.23L170.04 540L166.2 546.14L162.71 552.62L154.93 563.91L154.2 565.24L153.6 566.23L146.15 577.86L141 583.93L132.57 590.48L128.4 593.53L117.28 603.1L115.8 604.64L112.39 606.51L103.2 611.43L94.1 615.72L90.6 617.96L84.52 621.81L78 624.77Z" fill="#56843e" stroke="#56843e" stroke-width="0.5" fill-rule="evenodd"/>
<path d="M78 624.77L84.52 621.81L90.6 617.96L94.1 615.72L103.2 611.43L112.39 606.51L115.8 604.64L117.28 603.1L128.4 593.53L132.57 590.48L141 583.93L146.15 577.86L153.6 566.23L154.2 565.24L154.93 563.91L162.71 552.62L166.2 546.14L170.04 540L171.96 534.23L173.29 527.38L171.78 521.79L166.2 519.72L161.33 519.64L153.6 522.13L145.96 527.38L141 530.91L131.28 537.12L128.4 538.67L126.55 540L115.8 547.76L109.71 552.62L103.2 559.14L98.12 565.24L90.6 575.16L88.3 577.86L85.75 582.72L83.27 590.48L78 600.46L76.31 603.1L74.05 607.05L70.33 615.72L73.65 620.08ZM93.53 600.16L93.39 590.48L93.63 587.44L96.74 577.86L103.2 567.21L104.65 565.24L115.8 554.06L116.91 552.62L128.4 544.67L133.55 540L141 535.24L152.05 527.38L153.6 526.31L155.17 525.81L166.2 525.99L167.21 526.37L167.48 527.38L166.2 534.02L165.17 540L164.41 541.8L158.57 552.62L153.6 559.84L149.09 565.24L141 576.54L139.02 577.86L128.4 585.97L121.72 590.48L115.8 595.28L104.5 601.8L103.2 602.2Z" fill="#96a540" stroke="#96a540" stroke-width="0.5" fill-rule="evenodd"/>
<path d="M103.2 602.2L104.5 601.8L115.8 595.28L121.72 590.48L128.4 585.97L139.02 577.86L141 576.54L149.09 565.24L153.6 559.84L158.57 552.62L164.41 541.8L165.17 540L166.2 534.02L167.48 527.38L167.21 526.37L166.2 525.99L155.17 525.81L153.6 526.31L152.05 527.38L141 535.24L133.55 540L128.4 544.67L116.91 552.62L115.8 554.06L104.65 565.24L103.2 567.21L96.74 577.86L93.63 587.44L93.39 590.48L93.53 600.16ZM108.26 585.41L109.13 577.86L115.8 566.18L116.02 565.24L116.92 564.11L125.8 552.62L128.4 550.82L140.34 540L141 539.58L142.45 538.55L153.6 532.1L161.36 532.23L160.02 540L155.43 550.79L154.44 552.62L153.6 553.84L144.09 565.24L141 569.56L128.6 577.86L128.4 578.02L127.92 578.34L115.8 583.15Z" fill="#d0c24d" stroke="#d0c24d" stroke-width="0.5" fill-rule="evenodd"/>
<path d="M115.8 583.15L127.92 578.34L128.4 578.02L128.6 577.86L141 569.56L144.09 565.24L153.6 553.84L154.44 552.62L155.43 550.79L160.02 540L161.36 532.23L153.6 532.1L142.45 538.55L141 539.58L140.34 540L128.4 550.82L125.8 552.62L116.92 564.11L116.02 565.24L115.8 566.18L109.13 577.86L108.26 585.41ZM122.32 571.33L123.76 565.24L128.4 559.45L134.38 552.62L141 546.76L150.9 540L153.6 538.44L155.13 538.46L154.87 540L153.6 542.98L147.25 552.62L141 561.1L136.09 565.24L128.4 570.02Z" fill="#d9984c" stroke="#d9984c" stroke-width="0.5" fill-rule="evenodd"/>
<path d="M128.4 570.02L136.09 565.24L141 561.1L147.25 552.62L153.6 542.98L154.87 540L155.13 538.46L153.6 538.44L150.9 540L141 546.76L134.38 552.62L128.4 559.45L123.76 565.24L122.32 571.33Z" fill="#bc3d3a" stroke="#bc3d3a" stroke-width="0.5" fill-rule="evenodd"/>
<path d="M40.2 476.9V653.58M40.2 653.58H216.6M52.8 476.9V653.58M40.2 640.96H216.6M65.4 476.9V653.58M40.2 628.34H216.6M78 476.9V653.58M40.2 615.72H216.6M90.6 476.9V653.58M40.2 603.1H216.6M103.2 476.9V653.58M40.2 590.48H216.6M115.8 476.9V653.58M40.2 577.86H216.6M128.4 476.9V653.58M40.2 565.24H216.6M141 476.9V653.58M40.2 552.62H216.6M153.6 476.9V653.58M40.2 540H216.6M166.2 476.9V653.58M40.2 527.38H216.6M178.8 476.9V653.58M40.2 514.76H216.6M191.4 476.9V653.58M40.2 502.14H216.6M204 476.9V653.58M40.2 489.52H216.6M216.6 476.9V653.58M40.2 476.9H216.6M204 653.58L216.6 640.96M191.4 653.58L216.6 628.34M178.8 653.58L216.6 615.72M166.2 653.58L216.6 603.1M153.6 653.58L216.6 590.48M141 653.58L216.6 577.86M128.4 653.58L216.6 565.24M115.8 653.58L216.6 552.62M103.2 653.58L216.6 540M90.6 653.58L216.6 527.38M78 653.58L216.6 514.76M65.4 653.58L216.6 502.14M52.8 653.58L216.6 489.52M40.2 653.58L216.6 476.9M40.2 640.96L204 476.9M40.2 628.34L191.4 476.9M40.2 615.72L178.8 476.9M40.2 603.1L166.2 476.9M40.2 590.48L153.6 476.9M40.2 577.86L141 476.9M40.2 565.24L128.4 476.9M40.2 552.62L115.8 476.9M40.2 540L103.2 476.9M40.2 527.38L90.6 476.9M40.2 514.76L78 476.9M40.2 502.14L65.4 476.9M40.2 489.52L52.8 476.9" fill="none" stroke="#10162a" stroke-opacity="0.6" stroke-width="0.6"/>
<path d="M78 641.5L87.95 643.61L90.6 644.86L95.04 640.96L103.2 634.77L108.46 628.34L115.8 622.02L122.65 615.72L128.4 609.67L135.02 603.1L141 598.81L148.54 590.48L153.6 584.45L159.3 577.86L166.2 565.47L166.43 565.24L166.53 564.91L174.06 552.62L178.8 542.52L180.66 540L182.61 536.18L187.92 527.38L187.92 518.24L185.58 514.76L182.8 510.75L178.8 505.94L177.01 503.93L166.2 506.19L157.34 511.01L153.6 512.31L151.15 514.76L141 520.53L128.89 527.38L128.4 527.65L127.46 528.32L115.8 535.27L109.48 540L103.2 544.53L94.84 552.62L90.6 558.1L84.41 565.24L78 573.22L71.8 577.86L65.4 584.9L61.97 590.48L52.8 599.04L48.95 603.1L48.95 606.96L52.52 615.72L52.52 616L52.8 616L57.51 623.62L58.99 628.34L58.99 634.76L65.4 635.28L69.44 636.92L77.37 640.96L77.46 641.5ZM65.4 628.58L74.2 632.15L78 634.09L89.05 629.89L90.6 630.28L93.29 628.34L103.2 622.17L111.23 615.72L115.8 613.21L125.47 603.1L128.4 600.58L137.7 593.78L141 591.42L141.85 590.48L146.31 585.16L152.5 577.86L153.6 576.14L160.26 565.24L166.2 554.34L167.25 552.62L168.18 550.63L174.84 540L178.8 528.09L179.23 527.38L179.23 526.95L178.8 526.31L176.36 517.21L169.74 514.76L168.07 512.89L166.2 513.28L163.48 514.76L153.6 517.94L143.48 524.89L141 526.3L139.1 527.38L128.4 533.16L118.87 540L115.8 542.22L104.96 550.86L103.2 552.13L102.69 552.62L100.94 554.89L92.32 565.24L90.6 567.51L81.77 577.86L78 585.04L72.95 590.48L65.4 602.41L64.6 603.1L64.93 603.57L60.26 615.72L62.23 618.9L65.17 628.34L65.17 628.57ZM78 624.77L84.52 621.81L90.6 617.96L94.1 615.72L103.2 611.43L112.39 606.51L115.8 604.64L117.28 603.1L128.4 593.53L132.57 590.48L141 583.93L146.15 577.86L153.6 566.23L154.2 565.24L154.93 563.91L162.71 552.62L166.2 546.14L170.04 540L171.96 534.23L173.29 527.38L171.78 521.79L166.2 519.72L161.33 519.64L153.6 522.13L145.96 527.38L141 530.91L131.28 537.12L128.4 538.67L126.55 540L115.8 547.76L109.71 552.62L103.2 559.14L98.12 565.24L90.6 575.16L88.3 577.86L85.75 582.72L83.27 590.48L78 600.46L76.31 603.1L74.05 607.05L70.33 615.72L73.65 620.08ZM103.2 602.2L104.5 601.8L115.8 595.28L121.72 590.48L128.4 585.97L139.02 577.86L141 576.54L149.09 565.24L153.6 559.84L158.57 552.62L164.41 541.8L165.17 540L166.2 534.02L167.48 527.38L167.21 526.37L166.2 525.99L155.17 525.81L153.6 526.31L152.05 527.38L141 535.24L133.55 540L128.4 544.67L116.91 552.62L115.8 554.06L104.65 565.24L103.2 567.21L96.74 577.86L93.63 587.44L93.39 590.48L93.53 600.16ZM115.8 583.15L127.92 578.34L128.4 578.02L128.6 577.86L141 569.56L144.09 565.24L153.6 553.84L154.44 552.62L155.43 550.79L160.02 540L161.36 532.23L153.6 532.1L142.45 538.55L141 539.58L140.34 540L128.4 550.82L125.8 552.62L116.92 564.11L116.02 565.24L115.8 566.18L109.13 577.86L108.26 585.41ZM128.4 570.02L136.09 565.24L141 561.1L147.25 552.62L153.6 542.98L154.87 540L155.13 538.46L153.6 538.44L150.9 540L141 546.76L134.38 552.62L128.4 559.45L123.76 565.24L122.32 571.33Z" fill="none" stroke="#1a1a1a" stroke-opacity="0.45" stroke-width="0.45"/>
<clipPath id="cpc1"><rect x="40.2" y="476.9" width="176.4" height="176.68"/></clipPath>
<g clip-path="url(#cpc1)" stroke="#fff" stroke-width="1.5" stroke-dasharray="3.3 2.3" fill="none">
<path d="M40.2 638.44L216.6 461.76"/>
<path d="M40.2 668.72L216.6 492.04"/>
</g>
</g>
<text x="52" y="663.08" font-family='"Liberation Serif", "DejaVu Serif", serif' font-size="10" fill="#222" text-anchor="middle" >−1</text>
<text x="38.5" y="644.16" font-family='"Liberation Serif", "DejaVu Serif", serif' font-size="10" fill="#222" text-anchor="end" >−1</text>
<text x="78" y="663.08" font-family='"Liberation Serif", "DejaVu Serif", serif' font-size="10" fill="#222" text-anchor="middle" >1</text>
<text x="38.5" y="618.92" font-family='"Liberation Serif", "DejaVu Serif", serif' font-size="10" fill="#222" text-anchor="end" >1</text>
<text x="103.2" y="663.08" font-family='"Liberation Serif", "DejaVu Serif", serif' font-size="10" fill="#222" text-anchor="middle" >3</text>
<text x="38.5" y="593.68" font-family='"Liberation Serif", "DejaVu Serif", serif' font-size="10" fill="#222" text-anchor="end" >3</text>
<text x="128.4" y="663.08" font-family='"Liberation Serif", "DejaVu Serif", serif' font-size="10" fill="#222" text-anchor="middle" >5</text>
<text x="38.5" y="568.44" font-family='"Liberation Serif", "DejaVu Serif", serif' font-size="10" fill="#222" text-anchor="end" >5</text>
<text x="153.6" y="663.08" font-family='"Liberation Serif", "DejaVu Serif", serif' font-size="10" fill="#222" text-anchor="middle" >7</text>
<text x="38.5" y="543.2" font-family='"Liberation Serif", "DejaVu Serif", serif' font-size="10" fill="#222" text-anchor="end" >7</text>
<text x="178.8" y="663.08" font-family='"Liberation Serif", "DejaVu Serif", serif' font-size="10" fill="#222" text-anchor="middle" >9</text>
<text x="38.5" y="517.96" font-family='"Liberation Serif", "DejaVu Serif", serif' font-size="10" fill="#222" text-anchor="end" >9</text>
<text x="204" y="663.08" font-family='"Liberation Serif", "DejaVu Serif", serif' font-size="10" fill="#222" text-anchor="middle" >11</text>
<text x="38.5" y="492.72" font-family='"Liberation Serif", "DejaVu Serif", serif' font-size="10" fill="#222" text-anchor="end" >11</text>
<rect x="34.2" y="466.7" width="39.3" height="5.6" fill="#3d5793"/>
<rect x="73.2" y="466.7" width="24.2" height="5.6" fill="#406e61"/>
<rect x="97.1" y="466.7" width="24.2" height="5.6" fill="#56843e"/>
<rect x="121" y="466.7" width="24.2" height="5.6" fill="#96a540"/>
<rect x="144.9" y="466.7" width="24.2" height="5.6" fill="#d0c24d"/>
<rect x="168.8" y="466.7" width="24.2" height="5.6" fill="#d9984c"/>
<rect x="192.7" y="466.7" width="23.9" height="5.6" fill="#bc3d3a"/>
<path d="M49.4 465.4V466.7" stroke="#666" stroke-width="0.5"/>
<text x="49.4" y="463.1" font-family='"Liberation Serif", "DejaVu Serif", serif' font-size="10.8" fill="#222" text-anchor="middle" >0</text>
<path d="M97.2 465.4V466.7" stroke="#666" stroke-width="0.5"/>
<text x="97.2" y="463.1" font-family='"Liberation Serif", "DejaVu Serif", serif' font-size="10.8" fill="#222" text-anchor="middle" >0.01</text>
<path d="M145 465.4V466.7" stroke="#666" stroke-width="0.5"/>
<text x="145" y="463.1" font-family='"Liberation Serif", "DejaVu Serif", serif' font-size="10.8" fill="#222" text-anchor="middle" >0.02</text>
<path d="M192.8 465.4V466.7" stroke="#666" stroke-width="0.5"/>
<text x="192.8" y="463.1" font-family='"Liberation Serif", "DejaVu Serif", serif' font-size="10.8" fill="#222" text-anchor="middle" >0.03</text>
<text x="138.5" y="561.6" font-family='"Liberation Serif", "DejaVu Serif", serif' font-size="17.8" fill="#fff" text-anchor="middle" >Ω</text>
<rect x="138.1" y="635.1" width="77" height="15.8" fill="#fff"/>
<text y="647.5" font-family='"Liberation Serif", "DejaVu Serif", serif' font-size="11.97" fill="#2a2a2a"><tspan x="141.7" font-style="italic">p̂</tspan><tspan x="148.88" dy="-4.69" font-size="9.17">st</tspan><tspan x="156.86" dy="4.69">(</tspan><tspan x="160.35">Ω</tspan><tspan x="170.02">)</tspan><tspan x="178.59">=</tspan><tspan x="190.66">0.61</tspan></text>
<text transform="translate(15.5 563.6) rotate(-90)" font-family='"Liberation Serif", "DejaVu Serif", serif' font-size="15.6" fill="#222" text-anchor="middle"  textLength="156.8" lengthAdjust="spacingAndGlyphs">displacement number <tspan font-style="italic">r</tspan><tspan font-size="11" dy="2.6">2</tspan></text>
<text x="0.5" y="468.4" font-family='"Liberation Sans", "DejaVu Sans", sans-serif' font-size="13.4" fill="#111" text-anchor="start"  textLength="21.8" lengthAdjust="spacingAndGlyphs">(c1)</text>
<text x="129.2" y="680.4" font-family='"Liberation Serif", "DejaVu Serif", serif' font-size="15.6" fill="#222" text-anchor="middle"  textLength="158" lengthAdjust="spacingAndGlyphs">displacement number <tspan font-style="italic">r</tspan><tspan font-size="11" dy="2.6">1</tspan></text>
<path d="M356.8 203.7L356.8 61.45L357.86 57.11L366.7 32.11L375.54 57.11L376.6 61.45L376.6 203.7Z" fill="#e8f0fd"/>
<rect x="269.7" y="28.4" width="193.9" height="175.3" fill="none" stroke="#4a4a4a" stroke-width="1"/>
<path d="M269.7 200.2h2M463.6 200.2h-2M269.7 191.58h1.1M463.6 191.58h-1.1M269.7 182.96h1.1M463.6 182.96h-1.1M269.7 174.34h1.1M463.6 174.34h-1.1M269.7 165.72h1.1M463.6 165.72h-1.1M269.7 157.1h2M463.6 157.1h-2M269.7 148.48h1.1M463.6 148.48h-1.1M269.7 139.86h1.1M463.6 139.86h-1.1M269.7 131.24h1.1M463.6 131.24h-1.1M269.7 122.62h1.1M463.6 122.62h-1.1M269.7 114h2M463.6 114h-2M269.7 105.38h1.1M463.6 105.38h-1.1M269.7 96.76h1.1M463.6 96.76h-1.1M269.7 88.14h1.1M463.6 88.14h-1.1M269.7 79.52h1.1M463.6 79.52h-1.1M269.7 70.9h2M463.6 70.9h-2M269.7 62.28h1.1M463.6 62.28h-1.1M269.7 53.66h1.1M463.6 53.66h-1.1M269.7 45.04h1.1M463.6 45.04h-1.1M269.7 36.42h1.1M463.6 36.42h-1.1M278.3 203.7v-1.1M278.3 28.4v1.1M287.14 203.7v-1.1M287.14 28.4v1.1M295.98 203.7v-2M295.98 28.4v2M304.82 203.7v-1.1M304.82 28.4v1.1M313.66 203.7v-1.1M313.66 28.4v1.1M322.5 203.7v-1.1M322.5 28.4v1.1M331.34 203.7v-2M331.34 28.4v2M340.18 203.7v-1.1M340.18 28.4v1.1M349.02 203.7v-1.1M349.02 28.4v1.1M357.86 203.7v-1.1M357.86 28.4v1.1M366.7 203.7v-2M366.7 28.4v2M375.54 203.7v-1.1M375.54 28.4v1.1M384.38 203.7v-1.1M384.38 28.4v1.1M393.22 203.7v-1.1M393.22 28.4v1.1M402.06 203.7v-2M402.06 28.4v2M410.9 203.7v-1.1M410.9 28.4v1.1M419.74 203.7v-1.1M419.74 28.4v1.1M428.58 203.7v-1.1M428.58 28.4v1.1M437.42 203.7v-2M437.42 28.4v2M446.26 203.7v-1.1M446.26 28.4v1.1M455.1 203.7v-1.1M455.1 28.4v1.1" stroke="#444" stroke-width="0.6" fill="none"/>
<text x="268.4" y="203.25" font-family='"Liberation Serif", "DejaVu Serif", serif' font-size="9.6" fill="#222" text-anchor="end" >0.00</text>
<text x="268.4" y="160.15" font-family='"Liberation Serif", "DejaVu Serif", serif' font-size="9.6" fill="#222" text-anchor="end" >0.05</text>
<text x="268.4" y="117.05" font-family='"Liberation Serif", "DejaVu Serif", serif' font-size="9.6" fill="#222" text-anchor="end" >0.10</text>
<text x="268.4" y="73.95" font-family='"Liberation Serif", "DejaVu Serif", serif' font-size="9.6" fill="#222" text-anchor="end" >0.15</text>
<text x="268.4" y="30.85" font-family='"Liberation Serif", "DejaVu Serif", serif' font-size="9.6" fill="#222" text-anchor="end" >0.20</text>
<text x="294.78" y="213.2" font-family='"Liberation Serif", "DejaVu Serif", serif' font-size="9.6" fill="#222" text-anchor="middle" >−8</text>
<text x="330.14" y="213.2" font-family='"Liberation Serif", "DejaVu Serif", serif' font-size="9.6" fill="#222" text-anchor="middle" >−4</text>
<text x="366.7" y="213.2" font-family='"Liberation Serif", "DejaVu Serif", serif' font-size="9.6" fill="#222" text-anchor="middle" >0</text>
<text x="402.06" y="213.2" font-family='"Liberation Serif", "DejaVu Serif", serif' font-size="9.6" fill="#222" text-anchor="middle" >4</text>
<text x="437.42" y="213.2" font-family='"Liberation Serif", "DejaVu Serif", serif' font-size="9.6" fill="#222" text-anchor="middle" >8</text>
<clipPath id="lpa2"><rect x="269.2" y="28.4" width="194.9" height="175.3"/></clipPath>
<g clip-path="url(#lpa2)">
<path d="M269.46 200.2L278.3 200.2L287.14 200.2L295.98 200.03L304.82 199.68L313.66 198.48L322.5 193.3L331.34 176.06L340.18 137.27L349.02 93.31L357.86 57.11L366.7 32.11L375.54 57.11L384.38 93.31L393.22 137.27L402.06 176.06L410.9 193.3L419.74 198.48L428.58 199.68L437.42 200.03L446.26 200.2L455.1 200.2L463.94 200.2" fill="none" stroke="#3f3d99" stroke-width="0.9" stroke-linejoin="round"/>
<path d="M356.8 61.45L357.86 57.11L366.7 32.11L375.54 57.11L376.6 61.45" fill="none" stroke="#1a1a1a" stroke-opacity="0.45" stroke-width="0.7" stroke-dasharray="1.0 1.3"/>
<path d="M356.8 203.7V61.45M376.6 203.7V61.45" fill="none" stroke="#1a1a1a" stroke-opacity="0.9" stroke-width="0.7" stroke-dasharray="1.0 1.3"/>
<circle cx="269.46" cy="200.2" r="1.8" fill="#2f2d90"/>
<circle cx="278.3" cy="200.2" r="1.8" fill="#2f2d90"/>
<circle cx="287.14" cy="200.2" r="1.8" fill="#2f2d90"/>
<circle cx="295.98" cy="200.03" r="1.8" fill="#2f2d90"/>
<circle cx="304.82" cy="199.68" r="1.8" fill="#2f2d90"/>
<circle cx="313.66" cy="198.48" r="1.8" fill="#2f2d90"/>
<circle cx="322.5" cy="193.3" r="1.8" fill="#2f2d90"/>
<circle cx="331.34" cy="176.06" r="1.8" fill="#2f2d90"/>
<circle cx="340.18" cy="137.27" r="1.8" fill="#2f2d90"/>
<circle cx="349.02" cy="93.31" r="1.8" fill="#2f2d90"/>
<circle cx="357.86" cy="57.11" r="1.8" fill="#2f2d90"/>
<circle cx="366.7" cy="32.11" r="1.8" fill="#2f2d90"/>
<circle cx="375.54" cy="57.11" r="1.8" fill="#2f2d90"/>
<circle cx="384.38" cy="93.31" r="1.8" fill="#2f2d90"/>
<circle cx="393.22" cy="137.27" r="1.8" fill="#2f2d90"/>
<circle cx="402.06" cy="176.06" r="1.8" fill="#2f2d90"/>
<circle cx="410.9" cy="193.3" r="1.8" fill="#2f2d90"/>
<circle cx="419.74" cy="198.48" r="1.8" fill="#2f2d90"/>
<circle cx="428.58" cy="199.68" r="1.8" fill="#2f2d90"/>
<circle cx="437.42" cy="200.03" r="1.8" fill="#2f2d90"/>
<circle cx="446.26" cy="200.2" r="1.8" fill="#2f2d90"/>
<circle cx="455.1" cy="200.2" r="1.8" fill="#2f2d90"/>
<circle cx="463.94" cy="200.2" r="1.8" fill="#2f2d90"/>
</g>
<text x="366.3" y="137.6" font-family='"Liberation Serif", "DejaVu Serif", serif' font-size="17.8" fill="#222" text-anchor="middle" >Ω</text>
<text y="43.5" font-family='"Liberation Serif", "DejaVu Serif", serif' font-size="12" fill="#2a2a2a"><tspan x="387.8" font-style="italic">p̂</tspan><tspan x="395" dy="-4.7" font-size="9.2">st</tspan><tspan x="403" dy="4.7">(</tspan><tspan x="406.5">Ω</tspan><tspan x="416.2">)</tspan><tspan x="424.8">=</tspan><tspan x="436.9">0.53</tspan></text>
<text transform="translate(244 114.3) rotate(-90)" font-family='"Liberation Serif", "DejaVu Serif", serif' font-size="13.3" fill="#222" text-anchor="middle"  textLength="172.8" lengthAdjust="spacingAndGlyphs">Steady state probability <tspan font-style="italic">p̂</tspan><tspan font-size="9" dy="-4.6">st</tspan><tspan dy="4.6">(Δ</tspan><tspan font-style="italic">r</tspan>)</text>
<text x="230" y="17.8" font-family='"Liberation Sans", "DejaVu Sans", sans-serif' font-size="13.4" fill="#111" text-anchor="start"  textLength="21.8" lengthAdjust="spacingAndGlyphs">(a2)</text>
<path d="M356.8 430.9L356.8 302.18L357.86 294.59L366.7 258.28L375.54 294.59L376.6 302.18L376.6 430.9Z" fill="#e8f0fd"/>
<rect x="269.2" y="255.5" width="194.4" height="175.4" fill="none" stroke="#4a4a4a" stroke-width="1"/>
<path d="M269.2 427.3h2M463.6 427.3h-2M269.2 421.04h1.1M463.6 421.04h-1.1M269.2 414.78h1.1M463.6 414.78h-1.1M269.2 408.52h1.1M463.6 408.52h-1.1M269.2 402.26h1.1M463.6 402.26h-1.1M269.2 396h2M463.6 396h-2M269.2 389.74h1.1M463.6 389.74h-1.1M269.2 383.48h1.1M463.6 383.48h-1.1M269.2 377.22h1.1M463.6 377.22h-1.1M269.2 370.96h1.1M463.6 370.96h-1.1M269.2 364.7h2M463.6 364.7h-2M269.2 358.44h1.1M463.6 358.44h-1.1M269.2 352.18h1.1M463.6 352.18h-1.1M269.2 345.92h1.1M463.6 345.92h-1.1M269.2 339.66h1.1M463.6 339.66h-1.1M269.2 333.4h2M463.6 333.4h-2M269.2 327.14h1.1M463.6 327.14h-1.1M269.2 320.88h1.1M463.6 320.88h-1.1M269.2 314.62h1.1M463.6 314.62h-1.1M269.2 308.36h1.1M463.6 308.36h-1.1M269.2 302.1h2M463.6 302.1h-2M269.2 295.84h1.1M463.6 295.84h-1.1M269.2 289.58h1.1M463.6 289.58h-1.1M269.2 283.32h1.1M463.6 283.32h-1.1M269.2 277.06h1.1M463.6 277.06h-1.1M269.2 270.8h2M463.6 270.8h-2M269.2 264.54h1.1M463.6 264.54h-1.1M269.2 258.28h1.1M463.6 258.28h-1.1M269.46 430.9v-1.1M269.46 255.5v1.1M278.3 430.9v-1.1M278.3 255.5v1.1M287.14 430.9v-1.1M287.14 255.5v1.1M295.98 430.9v-2M295.98 255.5v2M304.82 430.9v-1.1M304.82 255.5v1.1M313.66 430.9v-1.1M313.66 255.5v1.1M322.5 430.9v-1.1M322.5 255.5v1.1M331.34 430.9v-2M331.34 255.5v2M340.18 430.9v-1.1M340.18 255.5v1.1M349.02 430.9v-1.1M349.02 255.5v1.1M357.86 430.9v-1.1M357.86 255.5v1.1M366.7 430.9v-2M366.7 255.5v2M375.54 430.9v-1.1M375.54 255.5v1.1M384.38 430.9v-1.1M384.38 255.5v1.1M393.22 430.9v-1.1M393.22 255.5v1.1M402.06 430.9v-2M402.06 255.5v2M410.9 430.9v-1.1M410.9 255.5v1.1M419.74 430.9v-1.1M419.74 255.5v1.1M428.58 430.9v-1.1M428.58 255.5v1.1M437.42 430.9v-2M437.42 255.5v2M446.26 430.9v-1.1M446.26 255.5v1.1M455.1 430.9v-1.1M455.1 255.5v1.1" stroke="#444" stroke-width="0.6" fill="none"/>
<text x="267.9" y="430.35" font-family='"Liberation Serif", "DejaVu Serif", serif' font-size="9.6" fill="#222" text-anchor="end" >0.00</text>
<text x="267.9" y="399.05" font-family='"Liberation Serif", "DejaVu Serif", serif' font-size="9.6" fill="#222" text-anchor="end" >0.05</text>
<text x="267.9" y="367.75" font-family='"Liberation Serif", "DejaVu Serif", serif' font-size="9.6" fill="#222" text-anchor="end" >0.10</text>
<text x="267.9" y="336.45" font-family='"Liberation Serif", "DejaVu Serif", serif' font-size="9.6" fill="#222" text-anchor="end" >0.15</text>
<text x="267.9" y="305.15" font-family='"Liberation Serif", "DejaVu Serif", serif' font-size="9.6" fill="#222" text-anchor="end" >0.20</text>
<text x="267.9" y="273.85" font-family='"Liberation Serif", "DejaVu Serif", serif' font-size="9.6" fill="#222" text-anchor="end" >0.25</text>
<text x="294.78" y="440.4" font-family='"Liberation Serif", "DejaVu Serif", serif' font-size="9.6" fill="#222" text-anchor="middle" >−8</text>
<text x="330.14" y="440.4" font-family='"Liberation Serif", "DejaVu Serif", serif' font-size="9.6" fill="#222" text-anchor="middle" >−4</text>
<text x="366.7" y="440.4" font-family='"Liberation Serif", "DejaVu Serif", serif' font-size="9.6" fill="#222" text-anchor="middle" >0</text>
<text x="402.06" y="440.4" font-family='"Liberation Serif", "DejaVu Serif", serif' font-size="9.6" fill="#222" text-anchor="middle" >4</text>
<text x="437.42" y="440.4" font-family='"Liberation Serif", "DejaVu Serif", serif' font-size="9.6" fill="#222" text-anchor="middle" >8</text>
<clipPath id="lpb2"><rect x="268.7" y="255.5" width="195.4" height="175.4"/></clipPath>
<g clip-path="url(#lpb2)">
<path d="M269.46 427.3L278.3 427.3L287.14 427.3L295.98 427.3L304.82 427.3L313.66 427.3L322.5 426.99L331.34 424.17L340.18 405.39L349.02 357.81L357.86 294.59L366.7 258.28L375.54 294.59L384.38 357.81L393.22 405.39L402.06 424.17L410.9 426.99L419.74 427.3L428.58 427.3L437.42 427.3L446.26 427.3L455.1 427.3L463.94 427.3" fill="none" stroke="#3f3d99" stroke-width="0.9" stroke-linejoin="round"/>
<path d="M356.8 302.18L357.86 294.59L366.7 258.28L375.54 294.59L376.6 302.18" fill="none" stroke="#1a1a1a" stroke-opacity="0.45" stroke-width="0.7" stroke-dasharray="1.0 1.3"/>
<path d="M356.8 430.9V302.18M376.6 430.9V302.18" fill="none" stroke="#1a1a1a" stroke-opacity="0.9" stroke-width="0.7" stroke-dasharray="1.0 1.3"/>
<circle cx="269.46" cy="427.3" r="1.8" fill="#2f2d90"/>
<circle cx="278.3" cy="427.3" r="1.8" fill="#2f2d90"/>
<circle cx="287.14" cy="427.3" r="1.8" fill="#2f2d90"/>
<circle cx="295.98" cy="427.3" r="1.8" fill="#2f2d90"/>
<circle cx="304.82" cy="427.3" r="1.8" fill="#2f2d90"/>
<circle cx="313.66" cy="427.3" r="1.8" fill="#2f2d90"/>
<circle cx="322.5" cy="426.99" r="1.8" fill="#2f2d90"/>
<circle cx="331.34" cy="424.17" r="1.8" fill="#2f2d90"/>
<circle cx="340.18" cy="405.39" r="1.8" fill="#2f2d90"/>
<circle cx="349.02" cy="357.81" r="1.8" fill="#2f2d90"/>
<circle cx="357.86" cy="294.59" r="1.8" fill="#2f2d90"/>
<circle cx="366.7" cy="258.28" r="1.8" fill="#2f2d90"/>
<circle cx="375.54" cy="294.59" r="1.8" fill="#2f2d90"/>
<circle cx="384.38" cy="357.81" r="1.8" fill="#2f2d90"/>
<circle cx="393.22" cy="405.39" r="1.8" fill="#2f2d90"/>
<circle cx="402.06" cy="424.17" r="1.8" fill="#2f2d90"/>
<circle cx="410.9" cy="426.99" r="1.8" fill="#2f2d90"/>
<circle cx="419.74" cy="427.3" r="1.8" fill="#2f2d90"/>
<circle cx="428.58" cy="427.3" r="1.8" fill="#2f2d90"/>
<circle cx="437.42" cy="427.3" r="1.8" fill="#2f2d90"/>
<circle cx="446.26" cy="427.3" r="1.8" fill="#2f2d90"/>
<circle cx="455.1" cy="427.3" r="1.8" fill="#2f2d90"/>
<circle cx="463.94" cy="427.3" r="1.8" fill="#2f2d90"/>
</g>
<text x="366.3" y="361.8" font-family='"Liberation Serif", "DejaVu Serif", serif' font-size="17.8" fill="#222" text-anchor="middle" >Ω</text>
<text y="270.9" font-family='"Liberation Serif", "DejaVu Serif", serif' font-size="12" fill="#2a2a2a"><tspan x="387.1" font-style="italic">p̂</tspan><tspan x="394.3" dy="-4.7" font-size="9.2">st</tspan><tspan x="402.3" dy="4.7">(</tspan><tspan x="405.8">Ω</tspan><tspan x="415.5">)</tspan><tspan x="424.1">=</tspan><tspan x="436.2">0.69</tspan></text>
<text transform="translate(244 342) rotate(-90)" font-family='"Liberation Serif", "DejaVu Serif", serif' font-size="13.3" fill="#222" text-anchor="middle"  textLength="172.9" lengthAdjust="spacingAndGlyphs">Steady state probability <tspan font-style="italic">p̂</tspan><tspan font-size="9" dy="-4.6">st</tspan><tspan dy="4.6">(Δ</tspan><tspan font-style="italic">r</tspan>)</text>
<text x="229.6" y="243.2" font-family='"Liberation Sans", "DejaVu Sans", sans-serif' font-size="13.4" fill="#111" text-anchor="start"  textLength="21.8" lengthAdjust="spacingAndGlyphs">(b2)</text>
<path d="M354.54 653L354.54 516.76L355.6 510.24L364.4 482.35L373.2 510.24L374.26 516.76L374.26 653Z" fill="#e8f0fd"/>
<rect x="267.6" y="479" width="193.8" height="174" fill="none" stroke="#4a4a4a" stroke-width="1"/>
<path d="M267.6 649.7h2M461.4 649.7h-2M267.6 642.36h1.1M461.4 642.36h-1.1M267.6 635.02h1.1M461.4 635.02h-1.1M267.6 627.68h1.1M461.4 627.68h-1.1M267.6 620.34h1.1M461.4 620.34h-1.1M267.6 613h2M461.4 613h-2M267.6 605.66h1.1M461.4 605.66h-1.1M267.6 598.32h1.1M461.4 598.32h-1.1M267.6 590.98h1.1M461.4 590.98h-1.1M267.6 583.64h1.1M461.4 583.64h-1.1M267.6 576.3h2M461.4 576.3h-2M267.6 568.96h1.1M461.4 568.96h-1.1M267.6 561.62h1.1M461.4 561.62h-1.1M267.6 554.28h1.1M461.4 554.28h-1.1M267.6 546.94h1.1M461.4 546.94h-1.1M267.6 539.6h2M461.4 539.6h-2M267.6 532.26h1.1M461.4 532.26h-1.1M267.6 524.92h1.1M461.4 524.92h-1.1M267.6 517.58h1.1M461.4 517.58h-1.1M267.6 510.24h1.1M461.4 510.24h-1.1M267.6 502.9h2M461.4 502.9h-2M267.6 495.56h1.1M461.4 495.56h-1.1M267.6 488.22h1.1M461.4 488.22h-1.1M267.6 480.88h1.1M461.4 480.88h-1.1M267.6 653v-1.1M267.6 479v1.1M276.4 653v-1.1M276.4 479v1.1M285.2 653v-1.1M285.2 479v1.1M294 653v-2M294 479v2M302.8 653v-1.1M302.8 479v1.1M311.6 653v-1.1M311.6 479v1.1M320.4 653v-1.1M320.4 479v1.1M329.2 653v-2M329.2 479v2M338 653v-1.1M338 479v1.1M346.8 653v-1.1M346.8 479v1.1M355.6 653v-1.1M355.6 479v1.1M364.4 653v-2M364.4 479v2M373.2 653v-1.1M373.2 479v1.1M382 653v-1.1M382 479v1.1M390.8 653v-1.1M390.8 479v1.1M399.6 653v-2M399.6 479v2M408.4 653v-1.1M408.4 479v1.1M417.2 653v-1.1M417.2 479v1.1M426 653v-1.1M426 479v1.1M434.8 653v-2M434.8 479v2M443.6 653v-1.1M443.6 479v1.1M452.4 653v-1.1M452.4 479v1.1M461.2 653v-1.1M461.2 479v1.1" stroke="#444" stroke-width="0.6" fill="none"/>
<text x="266.3" y="652.75" font-family='"Liberation Serif", "DejaVu Serif", serif' font-size="9.6" fill="#222" text-anchor="end" >0.00</text>
<text x="266.3" y="616.05" font-family='"Liberation Serif", "DejaVu Serif", serif' font-size="9.6" fill="#222" text-anchor="end" >0.05</text>
<text x="266.3" y="579.35" font-family='"Liberation Serif", "DejaVu Serif", serif' font-size="9.6" fill="#222" text-anchor="end" >0.10</text>
<text x="266.3" y="542.65" font-family='"Liberation Serif", "DejaVu Serif", serif' font-size="9.6" fill="#222" text-anchor="end" >0.15</text>
<text x="266.3" y="505.95" font-family='"Liberation Serif", "DejaVu Serif", serif' font-size="9.6" fill="#222" text-anchor="end" >0.20</text>
<text x="292.8" y="662.5" font-family='"Liberation Serif", "DejaVu Serif", serif' font-size="9.6" fill="#222" text-anchor="middle" >−8</text>
<text x="328" y="662.5" font-family='"Liberation Serif", "DejaVu Serif", serif' font-size="9.6" fill="#222" text-anchor="middle" >−4</text>
<text x="364.4" y="662.5" font-family='"Liberation Serif", "DejaVu Serif", serif' font-size="9.6" fill="#222" text-anchor="middle" >0</text>
<text x="399.6" y="662.5" font-family='"Liberation Serif", "DejaVu Serif", serif' font-size="9.6" fill="#222" text-anchor="middle" >4</text>
<text x="434.8" y="662.5" font-family='"Liberation Serif", "DejaVu Serif", serif' font-size="9.6" fill="#222" text-anchor="middle" >8</text>
<clipPath id="lpc2"><rect x="267.1" y="479" width="194.8" height="174"/></clipPath>
<g clip-path="url(#lpc2)">
<path d="M267.6 649.7L276.4 649.7L285.2 649.7L294 649.7L302.8 649.48L311.6 648.97L320.4 646.76L329.2 636.49L338 609.33L346.8 564.56L355.6 510.24L364.4 482.35L373.2 510.24L382 564.56L390.8 609.33L399.6 636.49L408.4 646.76L417.2 648.97L426 649.48L434.8 649.7L443.6 649.7L452.4 649.7L461.2 649.7" fill="none" stroke="#3f3d99" stroke-width="0.9" stroke-linejoin="round"/>
<path d="M354.54 516.76L355.6 510.24L364.4 482.35L373.2 510.24L374.26 516.76" fill="none" stroke="#1a1a1a" stroke-opacity="0.45" stroke-width="0.7" stroke-dasharray="1.0 1.3"/>
<path d="M354.54 653V516.76M374.26 653V516.76" fill="none" stroke="#1a1a1a" stroke-opacity="0.9" stroke-width="0.7" stroke-dasharray="1.0 1.3"/>
<circle cx="267.6" cy="649.7" r="1.8" fill="#2f2d90"/>
<circle cx="276.4" cy="649.7" r="1.8" fill="#2f2d90"/>
<circle cx="285.2" cy="649.7" r="1.8" fill="#2f2d90"/>
<circle cx="294" cy="649.7" r="1.8" fill="#2f2d90"/>
<circle cx="302.8" cy="649.48" r="1.8" fill="#2f2d90"/>
<circle cx="311.6" cy="648.97" r="1.8" fill="#2f2d90"/>
<circle cx="320.4" cy="646.76" r="1.8" fill="#2f2d90"/>
<circle cx="329.2" cy="636.49" r="1.8" fill="#2f2d90"/>
<circle cx="338" cy="609.33" r="1.8" fill="#2f2d90"/>
<circle cx="346.8" cy="564.56" r="1.8" fill="#2f2d90"/>
<circle cx="355.6" cy="510.24" r="1.8" fill="#2f2d90"/>
<circle cx="364.4" cy="482.35" r="1.8" fill="#2f2d90"/>
<circle cx="373.2" cy="510.24" r="1.8" fill="#2f2d90"/>
<circle cx="382" cy="564.56" r="1.8" fill="#2f2d90"/>
<circle cx="390.8" cy="609.33" r="1.8" fill="#2f2d90"/>
<circle cx="399.6" cy="636.49" r="1.8" fill="#2f2d90"/>
<circle cx="408.4" cy="646.76" r="1.8" fill="#2f2d90"/>
<circle cx="417.2" cy="648.97" r="1.8" fill="#2f2d90"/>
<circle cx="426" cy="649.48" r="1.8" fill="#2f2d90"/>
<circle cx="434.8" cy="649.7" r="1.8" fill="#2f2d90"/>
<circle cx="443.6" cy="649.7" r="1.8" fill="#2f2d90"/>
<circle cx="452.4" cy="649.7" r="1.8" fill="#2f2d90"/>
<circle cx="461.2" cy="649.7" r="1.8" fill="#2f2d90"/>
</g>
<text x="364.6" y="586" font-family='"Liberation Serif", "DejaVu Serif", serif' font-size="17.8" fill="#222" text-anchor="middle" >Ω</text>
<text y="495.6" font-family='"Liberation Serif", "DejaVu Serif", serif' font-size="12" fill="#2a2a2a"><tspan x="385.4" font-style="italic">p̂</tspan><tspan x="392.6" dy="-4.7" font-size="9.2">st</tspan><tspan x="400.6" dy="4.7">(</tspan><tspan x="404.1">Ω</tspan><tspan x="413.8">)</tspan><tspan x="422.4">=</tspan><tspan x="434.5">0.61</tspan></text>
<text transform="translate(242 565) rotate(-90)" font-family='"Liberation Serif", "DejaVu Serif", serif' font-size="13.3" fill="#222" text-anchor="middle"  textLength="171" lengthAdjust="spacingAndGlyphs">Steady state probability <tspan font-style="italic">p̂</tspan><tspan font-size="9" dy="-4.6">st</tspan><tspan dy="4.6">(Δ</tspan><tspan font-style="italic">r</tspan>)</text>
<text x="227.8" y="467.9" font-family='"Liberation Sans", "DejaVu Sans", sans-serif' font-size="13.4" fill="#111" text-anchor="start"  textLength="21.8" lengthAdjust="spacingAndGlyphs">(c2)</text>
<text x="364.1" y="680.4" font-family='"Liberation Serif", "DejaVu Serif", serif' font-size="15.6" fill="#222" text-anchor="middle"  textLength="171" lengthAdjust="spacingAndGlyphs">Motor-motor separation Δ<tspan font-style="italic">r</tspan></text>
<path d="M529.6 202.7L529.6 99.65L543.48 30.29L543.48 202.7Z" fill="#e8f0fd"/>
<rect x="516.2" y="26.6" width="159.1" height="176.1" fill="none" stroke="#4a4a4a" stroke-width="1"/>
<path d="M516.2 199.1h2M675.3 199.1h-2M516.2 194h1.1M675.3 194h-1.1M516.2 188.9h1.1M675.3 188.9h-1.1M516.2 183.8h1.1M675.3 183.8h-1.1M516.2 178.7h1.1M675.3 178.7h-1.1M516.2 173.6h2M675.3 173.6h-2M516.2 168.5h1.1M675.3 168.5h-1.1M516.2 163.4h1.1M675.3 163.4h-1.1M516.2 158.3h1.1M675.3 158.3h-1.1M516.2 153.2h1.1M675.3 153.2h-1.1M516.2 148.1h2M675.3 148.1h-2M516.2 143h1.1M675.3 143h-1.1M516.2 137.9h1.1M675.3 137.9h-1.1M516.2 132.8h1.1M675.3 132.8h-1.1M516.2 127.7h1.1M675.3 127.7h-1.1M516.2 122.6h2M675.3 122.6h-2M516.2 117.5h1.1M675.3 117.5h-1.1M516.2 112.4h1.1M675.3 112.4h-1.1M516.2 107.3h1.1M675.3 107.3h-1.1M516.2 102.2h1.1M675.3 102.2h-1.1M516.2 97.1h2M675.3 97.1h-2M516.2 92h1.1M675.3 92h-1.1M516.2 86.9h1.1M675.3 86.9h-1.1M516.2 81.8h1.1M675.3 81.8h-1.1M516.2 76.7h1.1M675.3 76.7h-1.1M516.2 71.6h2M675.3 71.6h-2M516.2 66.5h1.1M675.3 66.5h-1.1M516.2 61.4h1.1M675.3 61.4h-1.1M516.2 56.3h1.1M675.3 56.3h-1.1M516.2 51.2h1.1M675.3 51.2h-1.1M516.2 46.1h2M675.3 46.1h-2M516.2 41h1.1M675.3 41h-1.1M516.2 35.9h1.1M675.3 35.9h-1.1M516.2 30.8h1.1M675.3 30.8h-1.1M529.6 202.7v-2M529.6 26.6v2M543.48 202.7v-1.1M543.48 26.6v1.1M557.36 202.7v-2M557.36 26.6v2M571.24 202.7v-1.1M571.24 26.6v1.1M585.12 202.7v-2M585.12 26.6v2M599 202.7v-1.1M599 26.6v1.1M612.88 202.7v-2M612.88 26.6v2M626.76 202.7v-1.1M626.76 26.6v1.1M640.64 202.7v-2M640.64 26.6v2M654.52 202.7v-1.1M654.52 26.6v1.1M668.4 202.7v-2M668.4 26.6v2" stroke="#444" stroke-width="0.6" fill="none"/>
<text x="514.9" y="202.15" font-family='"Liberation Serif", "DejaVu Serif", serif' font-size="9.6" fill="#222" text-anchor="end" >0.00</text>
<text x="514.9" y="176.65" font-family='"Liberation Serif", "DejaVu Serif", serif' font-size="9.6" fill="#222" text-anchor="end" >0.05</text>
<text x="514.9" y="151.15" font-family='"Liberation Serif", "DejaVu Serif", serif' font-size="9.6" fill="#222" text-anchor="end" >0.10</text>
<text x="514.9" y="125.65" font-family='"Liberation Serif", "DejaVu Serif", serif' font-size="9.6" fill="#222" text-anchor="end" >0.15</text>
<text x="514.9" y="100.15" font-family='"Liberation Serif", "DejaVu Serif", serif' font-size="9.6" fill="#222" text-anchor="end" >0.20</text>
<text x="514.9" y="74.65" font-family='"Liberation Serif", "DejaVu Serif", serif' font-size="9.6" fill="#222" text-anchor="end" >0.25</text>
<text x="514.9" y="49.15" font-family='"Liberation Serif", "DejaVu Serif", serif' font-size="9.6" fill="#222" text-anchor="end" >0.30</text>
<text x="529.6" y="211.3" font-family='"Liberation Serif", "DejaVu Serif", serif' font-size="9.6" fill="#222" text-anchor="middle" >0</text>
<text x="557.36" y="211.3" font-family='"Liberation Serif", "DejaVu Serif", serif' font-size="9.6" fill="#222" text-anchor="middle" >2</text>
<text x="585.12" y="211.3" font-family='"Liberation Serif", "DejaVu Serif", serif' font-size="9.6" fill="#222" text-anchor="middle" >4</text>
<text x="612.88" y="211.3" font-family='"Liberation Serif", "DejaVu Serif", serif' font-size="9.6" fill="#222" text-anchor="middle" >6</text>
<text x="640.64" y="211.3" font-family='"Liberation Serif", "DejaVu Serif", serif' font-size="9.6" fill="#222" text-anchor="middle" >8</text>
<text x="668.4" y="211.3" font-family='"Liberation Serif", "DejaVu Serif", serif' font-size="9.6" fill="#222" text-anchor="middle" >10</text>
<clipPath id="lpa3"><rect x="515.7" y="26.6" width="160.1" height="176.1"/></clipPath>
<g clip-path="url(#lpa3)">
<path d="M529.6 99.65L543.48 30.29L557.36 72.62L571.24 124.13L585.12 170.03L599 190.43L612.88 197.06L626.76 198.59L640.64 198.95L654.52 199.1L668.4 199.1L682.28 199.1" fill="none" stroke="#3f3d99" stroke-width="0.9" stroke-linejoin="round"/>
<path d="M529.6 99.65L543.48 30.29" fill="none" stroke="#1a1a1a" stroke-opacity="0.45" stroke-width="0.7" stroke-dasharray="1.0 1.3"/>
<path d="M529.6 202.7V99.65M543.48 202.7V30.29" fill="none" stroke="#1a1a1a" stroke-opacity="0.9" stroke-width="0.7" stroke-dasharray="1.0 1.3"/>
<circle cx="529.6" cy="99.65" r="1.8" fill="#2f2d90"/>
<circle cx="543.48" cy="30.29" r="1.8" fill="#2f2d90"/>
<circle cx="557.36" cy="72.62" r="1.8" fill="#2f2d90"/>
<circle cx="571.24" cy="124.13" r="1.8" fill="#2f2d90"/>
<circle cx="585.12" cy="170.03" r="1.8" fill="#2f2d90"/>
<circle cx="599" cy="190.43" r="1.8" fill="#2f2d90"/>
<circle cx="612.88" cy="197.06" r="1.8" fill="#2f2d90"/>
<circle cx="626.76" cy="198.59" r="1.8" fill="#2f2d90"/>
<circle cx="640.64" cy="198.95" r="1.8" fill="#2f2d90"/>
<circle cx="654.52" cy="199.1" r="1.8" fill="#2f2d90"/>
<circle cx="668.4" cy="199.1" r="1.8" fill="#2f2d90"/>
<circle cx="682.28" cy="199.1" r="1.8" fill="#2f2d90"/>
</g>
<text x="536.4" y="137" font-family='"Liberation Serif", "DejaVu Serif", serif' font-size="17.8" fill="#222" text-anchor="middle" >Ω</text>
<text y="43.6" font-family='"Liberation Serif", "DejaVu Serif", serif' font-size="12.17" fill="#2a2a2a"><tspan x="599.1" font-style="italic">p̂</tspan><tspan x="606.41" dy="-4.77" font-size="9.33">st</tspan><tspan x="614.52" dy="4.77">(</tspan><tspan x="618.07">Ω</tspan><tspan x="627.91">)</tspan><tspan x="636.63">=</tspan><tspan x="648.91">0.53</tspan></text>
<text transform="translate(492.7 114.7) rotate(-90)" font-family='"Liberation Serif", "DejaVu Serif", serif' font-size="13.3" fill="#222" text-anchor="middle"  textLength="179" lengthAdjust="spacingAndGlyphs">Steady state probability <tspan font-style="italic">p̂</tspan><tspan font-size="9" dy="-4.6">st</tspan><tspan dy="4.6">(|Δ</tspan><tspan font-style="italic">r</tspan>|)</text>
<text x="476.2" y="17.8" font-family='"Liberation Sans", "DejaVu Sans", sans-serif' font-size="13.4" fill="#111" text-anchor="start"  textLength="21.8" lengthAdjust="spacingAndGlyphs">(a3)</text>
<path d="M527 431L527 319.23L541 257.48L541 431Z" fill="#e8f0fd"/>
<rect x="513.2" y="253.6" width="160.4" height="177.4" fill="none" stroke="#4a4a4a" stroke-width="1"/>
<path d="M513.2 427.5h2M673.6 427.5h-2M513.2 419.48h1.1M673.6 419.48h-1.1M513.2 411.46h1.1M673.6 411.46h-1.1M513.2 403.44h1.1M673.6 403.44h-1.1M513.2 395.42h1.1M673.6 395.42h-1.1M513.2 387.4h2M673.6 387.4h-2M513.2 379.38h1.1M673.6 379.38h-1.1M513.2 371.36h1.1M673.6 371.36h-1.1M513.2 363.34h1.1M673.6 363.34h-1.1M513.2 355.32h1.1M673.6 355.32h-1.1M513.2 347.3h2M673.6 347.3h-2M513.2 339.28h1.1M673.6 339.28h-1.1M513.2 331.26h1.1M673.6 331.26h-1.1M513.2 323.24h1.1M673.6 323.24h-1.1M513.2 315.22h1.1M673.6 315.22h-1.1M513.2 307.2h2M673.6 307.2h-2M513.2 299.18h1.1M673.6 299.18h-1.1M513.2 291.16h1.1M673.6 291.16h-1.1M513.2 283.14h1.1M673.6 283.14h-1.1M513.2 275.12h1.1M673.6 275.12h-1.1M513.2 267.1h2M673.6 267.1h-2M513.2 259.08h1.1M673.6 259.08h-1.1M527 431v-2M527 253.6v2M541 431v-1.1M541 253.6v1.1M555 431v-2M555 253.6v2M569 431v-1.1M569 253.6v1.1M583 431v-2M583 253.6v2M597 431v-1.1M597 253.6v1.1M611 431v-2M611 253.6v2M625 431v-1.1M625 253.6v1.1M639 431v-2M639 253.6v2M653 431v-1.1M653 253.6v1.1M667 431v-2M667 253.6v2" stroke="#444" stroke-width="0.6" fill="none"/>
<text x="511.9" y="430.55" font-family='"Liberation Serif", "DejaVu Serif", serif' font-size="9.3" fill="#222" text-anchor="end" >0.0</text>
<text x="511.9" y="390.45" font-family='"Liberation Serif", "DejaVu Serif", serif' font-size="9.3" fill="#222" text-anchor="end" >0.1</text>
<text x="511.9" y="350.35" font-family='"Liberation Serif", "DejaVu Serif", serif' font-size="9.3" fill="#222" text-anchor="end" >0.2</text>
<text x="511.9" y="310.25" font-family='"Liberation Serif", "DejaVu Serif", serif' font-size="9.3" fill="#222" text-anchor="end" >0.3</text>
<text x="511.9" y="270.15" font-family='"Liberation Serif", "DejaVu Serif", serif' font-size="9.3" fill="#222" text-anchor="end" >0.4</text>
<text x="527" y="439.6" font-family='"Liberation Serif", "DejaVu Serif", serif' font-size="9.3" fill="#222" text-anchor="middle" >0</text>
<text x="555" y="439.6" font-family='"Liberation Serif", "DejaVu Serif", serif' font-size="9.3" fill="#222" text-anchor="middle" >2</text>
<text x="583" y="439.6" font-family='"Liberation Serif", "DejaVu Serif", serif' font-size="9.3" fill="#222" text-anchor="middle" >4</text>
<text x="611" y="439.6" font-family='"Liberation Serif", "DejaVu Serif", serif' font-size="9.3" fill="#222" text-anchor="middle" >6</text>
<text x="639" y="439.6" font-family='"Liberation Serif", "DejaVu Serif", serif' font-size="9.3" fill="#222" text-anchor="middle" >8</text>
<text x="667" y="439.6" font-family='"Liberation Serif", "DejaVu Serif", serif' font-size="9.3" fill="#222" text-anchor="middle" >10</text>
<clipPath id="lpb3"><rect x="512.7" y="253.6" width="161.4" height="177.4"/></clipPath>
<g clip-path="url(#lpb3)">
<path d="M527 319.23L541 257.48L555 338.08L569 399.03L583 423.09L597 427.1L611 427.5L625 427.5L639 427.5L653 427.5L667 427.5L681 427.5" fill="none" stroke="#3f3d99" stroke-width="0.9" stroke-linejoin="round"/>
<path d="M527 319.23L541 257.48" fill="none" stroke="#1a1a1a" stroke-opacity="0.45" stroke-width="0.7" stroke-dasharray="1.0 1.3"/>
<path d="M527 431V319.23M541 431V257.48" fill="none" stroke="#1a1a1a" stroke-opacity="0.9" stroke-width="0.7" stroke-dasharray="1.0 1.3"/>
<circle cx="527" cy="319.23" r="1.8" fill="#2f2d90"/>
<circle cx="541" cy="257.48" r="1.8" fill="#2f2d90"/>
<circle cx="555" cy="338.08" r="1.8" fill="#2f2d90"/>
<circle cx="569" cy="399.03" r="1.8" fill="#2f2d90"/>
<circle cx="583" cy="423.09" r="1.8" fill="#2f2d90"/>
<circle cx="597" cy="427.1" r="1.8" fill="#2f2d90"/>
<circle cx="611" cy="427.5" r="1.8" fill="#2f2d90"/>
<circle cx="625" cy="427.5" r="1.8" fill="#2f2d90"/>
<circle cx="639" cy="427.5" r="1.8" fill="#2f2d90"/>
<circle cx="653" cy="427.5" r="1.8" fill="#2f2d90"/>
<circle cx="667" cy="427.5" r="1.8" fill="#2f2d90"/>
<circle cx="681" cy="427.5" r="1.8" fill="#2f2d90"/>
</g>
<text x="534.1" y="361.3" font-family='"Liberation Serif", "DejaVu Serif", serif' font-size="17.8" fill="#222" text-anchor="middle" >Ω</text>
<text y="270.9" font-family='"Liberation Serif", "DejaVu Serif", serif' font-size="12.17" fill="#2a2a2a"><tspan x="598.6" font-style="italic">p̂</tspan><tspan x="605.91" dy="-4.77" font-size="9.33">st</tspan><tspan x="614.02" dy="4.77">(</tspan><tspan x="617.57">Ω</tspan><tspan x="627.41">)</tspan><tspan x="636.13">=</tspan><tspan x="648.41">0.69</tspan></text>
<text transform="translate(493.6 342.7) rotate(-90)" font-family='"Liberation Serif", "DejaVu Serif", serif' font-size="13.3" fill="#222" text-anchor="middle"  textLength="179.5" lengthAdjust="spacingAndGlyphs">Steady state probability <tspan font-style="italic">p̂</tspan><tspan font-size="9" dy="-4.6">st</tspan><tspan dy="4.6">(|Δ</tspan><tspan font-style="italic">r</tspan>|)</text>
<text x="475.4" y="243.2" font-family='"Liberation Sans", "DejaVu Sans", sans-serif' font-size="13.4" fill="#111" text-anchor="start"  textLength="21.8" lengthAdjust="spacingAndGlyphs">(b3)</text>
<path d="M527 653.4L527 549.08L540.87 482.34L540.87 653.4Z" fill="#e8f0fd"/>
<rect x="513.5" y="478.8" width="159.1" height="174.6" fill="none" stroke="#4a4a4a" stroke-width="1"/>
<path d="M513.5 650.3h2M672.6 650.3h-2M513.5 645.88h1.1M672.6 645.88h-1.1M513.5 641.46h1.1M672.6 641.46h-1.1M513.5 637.04h1.1M672.6 637.04h-1.1M513.5 632.62h1.1M672.6 632.62h-1.1M513.5 628.2h2M672.6 628.2h-2M513.5 623.78h1.1M672.6 623.78h-1.1M513.5 619.36h1.1M672.6 619.36h-1.1M513.5 614.94h1.1M672.6 614.94h-1.1M513.5 610.52h1.1M672.6 610.52h-1.1M513.5 606.1h2M672.6 606.1h-2M513.5 601.68h1.1M672.6 601.68h-1.1M513.5 597.26h1.1M672.6 597.26h-1.1M513.5 592.84h1.1M672.6 592.84h-1.1M513.5 588.42h1.1M672.6 588.42h-1.1M513.5 584h2M672.6 584h-2M513.5 579.58h1.1M672.6 579.58h-1.1M513.5 575.16h1.1M672.6 575.16h-1.1M513.5 570.74h1.1M672.6 570.74h-1.1M513.5 566.32h1.1M672.6 566.32h-1.1M513.5 561.9h2M672.6 561.9h-2M513.5 557.48h1.1M672.6 557.48h-1.1M513.5 553.06h1.1M672.6 553.06h-1.1M513.5 548.64h1.1M672.6 548.64h-1.1M513.5 544.22h1.1M672.6 544.22h-1.1M513.5 539.8h2M672.6 539.8h-2M513.5 535.38h1.1M672.6 535.38h-1.1M513.5 530.96h1.1M672.6 530.96h-1.1M513.5 526.54h1.1M672.6 526.54h-1.1M513.5 522.12h1.1M672.6 522.12h-1.1M513.5 517.7h2M672.6 517.7h-2M513.5 513.28h1.1M672.6 513.28h-1.1M513.5 508.86h1.1M672.6 508.86h-1.1M513.5 504.44h1.1M672.6 504.44h-1.1M513.5 500.02h1.1M672.6 500.02h-1.1M513.5 495.6h2M672.6 495.6h-2M513.5 491.18h1.1M672.6 491.18h-1.1M513.5 486.76h1.1M672.6 486.76h-1.1M513.5 482.34h1.1M672.6 482.34h-1.1M527 653.4v-2M527 478.8v2M540.87 653.4v-1.1M540.87 478.8v1.1M554.74 653.4v-2M554.74 478.8v2M568.61 653.4v-1.1M568.61 478.8v1.1M582.48 653.4v-2M582.48 478.8v2M596.35 653.4v-1.1M596.35 478.8v1.1M610.22 653.4v-2M610.22 478.8v2M624.09 653.4v-1.1M624.09 478.8v1.1M637.96 653.4v-2M637.96 478.8v2M651.83 653.4v-1.1M651.83 478.8v1.1M665.7 653.4v-2M665.7 478.8v2" stroke="#444" stroke-width="0.6" fill="none"/>
<text x="512.2" y="653.35" font-family='"Liberation Serif", "DejaVu Serif", serif' font-size="9.6" fill="#222" text-anchor="end" >0.00</text>
<text x="512.2" y="631.25" font-family='"Liberation Serif", "DejaVu Serif", serif' font-size="9.6" fill="#222" text-anchor="end" >0.05</text>
<text x="512.2" y="609.15" font-family='"Liberation Serif", "DejaVu Serif", serif' font-size="9.6" fill="#222" text-anchor="end" >0.10</text>
<text x="512.2" y="587.05" font-family='"Liberation Serif", "DejaVu Serif", serif' font-size="9.6" fill="#222" text-anchor="end" >0.15</text>
<text x="512.2" y="564.95" font-family='"Liberation Serif", "DejaVu Serif", serif' font-size="9.6" fill="#222" text-anchor="end" >0.20</text>
<text x="512.2" y="542.85" font-family='"Liberation Serif", "DejaVu Serif", serif' font-size="9.6" fill="#222" text-anchor="end" >0.25</text>
<text x="512.2" y="520.75" font-family='"Liberation Serif", "DejaVu Serif", serif' font-size="9.6" fill="#222" text-anchor="end" >0.30</text>
<text x="512.2" y="498.65" font-family='"Liberation Serif", "DejaVu Serif", serif' font-size="9.6" fill="#222" text-anchor="end" >0.35</text>
<text x="527" y="662" font-family='"Liberation Serif", "DejaVu Serif", serif' font-size="9.6" fill="#222" text-anchor="middle" >0</text>
<text x="554.74" y="662" font-family='"Liberation Serif", "DejaVu Serif", serif' font-size="9.6" fill="#222" text-anchor="middle" >2</text>
<text x="582.48" y="662" font-family='"Liberation Serif", "DejaVu Serif", serif' font-size="9.6" fill="#222" text-anchor="middle" >4</text>
<text x="610.22" y="662" font-family='"Liberation Serif", "DejaVu Serif", serif' font-size="9.6" fill="#222" text-anchor="middle" >6</text>
<text x="637.96" y="662" font-family='"Liberation Serif", "DejaVu Serif", serif' font-size="9.6" fill="#222" text-anchor="middle" >8</text>
<text x="665.7" y="662" font-family='"Liberation Serif", "DejaVu Serif", serif' font-size="9.6" fill="#222" text-anchor="middle" >10</text>
<clipPath id="lpc3"><rect x="513" y="478.8" width="160.1" height="174.6"/></clipPath>
<g clip-path="url(#lpc3)">
<path d="M527 549.08L540.87 482.34L554.74 547.31L568.61 601.68L582.48 633.95L596.35 646.1L610.22 649.42L624.09 650.08L637.96 650.3L651.83 650.3L665.7 650.3L679.57 650.3" fill="none" stroke="#3f3d99" stroke-width="0.9" stroke-linejoin="round"/>
<path d="M527 549.08L540.87 482.34" fill="none" stroke="#1a1a1a" stroke-opacity="0.45" stroke-width="0.7" stroke-dasharray="1.0 1.3"/>
<path d="M527 653.4V549.08M540.87 653.4V482.34" fill="none" stroke="#1a1a1a" stroke-opacity="0.9" stroke-width="0.7" stroke-dasharray="1.0 1.3"/>
<circle cx="527" cy="549.08" r="1.8" fill="#2f2d90"/>
<circle cx="540.87" cy="482.34" r="1.8" fill="#2f2d90"/>
<circle cx="554.74" cy="547.31" r="1.8" fill="#2f2d90"/>
<circle cx="568.61" cy="601.68" r="1.8" fill="#2f2d90"/>
<circle cx="582.48" cy="633.95" r="1.8" fill="#2f2d90"/>
<circle cx="596.35" cy="646.1" r="1.8" fill="#2f2d90"/>
<circle cx="610.22" cy="649.42" r="1.8" fill="#2f2d90"/>
<circle cx="624.09" cy="650.08" r="1.8" fill="#2f2d90"/>
<circle cx="637.96" cy="650.3" r="1.8" fill="#2f2d90"/>
<circle cx="651.83" cy="650.3" r="1.8" fill="#2f2d90"/>
<circle cx="665.7" cy="650.3" r="1.8" fill="#2f2d90"/>
<circle cx="679.57" cy="650.3" r="1.8" fill="#2f2d90"/>
</g>
<text x="534.1" y="586" font-family='"Liberation Serif", "DejaVu Serif", serif' font-size="17.8" fill="#222" text-anchor="middle" >Ω</text>
<text y="495.4" font-family='"Liberation Serif", "DejaVu Serif", serif' font-size="12" fill="#2a2a2a"><tspan x="595.9" font-style="italic">p̂</tspan><tspan x="603.1" dy="-4.7" font-size="9.2">st</tspan><tspan x="611.1" dy="4.7">(</tspan><tspan x="614.6">Ω</tspan><tspan x="624.3">)</tspan><tspan x="632.9">=</tspan><tspan x="645">0.61</tspan></text>
<text transform="translate(490.4 567.3) rotate(-90)" font-family='"Liberation Serif", "DejaVu Serif", serif' font-size="13.3" fill="#222" text-anchor="middle"  textLength="177" lengthAdjust="spacingAndGlyphs">Steady state probability <tspan font-style="italic">p̂</tspan><tspan font-size="9" dy="-4.6">st</tspan><tspan dy="4.6">(|Δ</tspan><tspan font-style="italic">r</tspan>|)</text>
<text x="473.6" y="467.9" font-family='"Liberation Sans", "DejaVu Sans", sans-serif' font-size="13.4" fill="#111" text-anchor="start"  textLength="21.8" lengthAdjust="spacingAndGlyphs">(c3)</text>
<text x="586.9" y="680.4" font-family='"Liberation Serif", "DejaVu Serif", serif' font-size="15.6" fill="#222" text-anchor="middle"  textLength="171.6" lengthAdjust="spacingAndGlyphs">Motor-motor separation |Δ<tspan font-style="italic">r</tspan>|</text>
</svg>
</body></html>
